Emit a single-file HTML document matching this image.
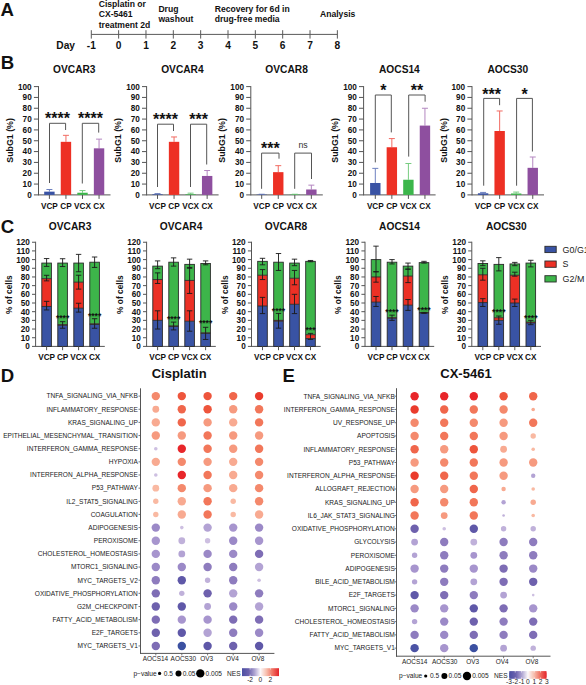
<!DOCTYPE html>
<html><head><meta charset="utf-8"><style>
html,body{margin:0;padding:0;background:#fff;}
svg{display:block;}
text{font-family:"Liberation Sans", sans-serif;}
</style></head><body>
<svg width="586" height="685" viewBox="0 0 586 685">
<rect width="586" height="685" fill="#fff"/>
<text x="0.60" y="16.30" font-size="18.6" font-weight="bold" text-anchor="start" fill="#111" >A</text>
<line x1="91.30" y1="34.40" x2="337.36" y2="34.40" stroke="#5a5a5a" stroke-width="1.0" />
<line x1="91.30" y1="30.20" x2="91.30" y2="38.60" stroke="#5a5a5a" stroke-width="1.0" />
<text x="91.30" y="49.40" font-size="10.2" font-weight="bold" text-anchor="middle" fill="#111" >-1</text>
<line x1="118.64" y1="30.20" x2="118.64" y2="38.60" stroke="#5a5a5a" stroke-width="1.0" />
<text x="118.64" y="49.40" font-size="10.2" font-weight="bold" text-anchor="middle" fill="#111" >0</text>
<line x1="145.98" y1="30.20" x2="145.98" y2="38.60" stroke="#5a5a5a" stroke-width="1.0" />
<text x="145.98" y="49.40" font-size="10.2" font-weight="bold" text-anchor="middle" fill="#111" >1</text>
<line x1="173.32" y1="30.20" x2="173.32" y2="38.60" stroke="#5a5a5a" stroke-width="1.0" />
<text x="173.32" y="49.40" font-size="10.2" font-weight="bold" text-anchor="middle" fill="#111" >2</text>
<line x1="200.66" y1="30.20" x2="200.66" y2="38.60" stroke="#5a5a5a" stroke-width="1.0" />
<text x="200.66" y="49.40" font-size="10.2" font-weight="bold" text-anchor="middle" fill="#111" >3</text>
<line x1="228.00" y1="30.20" x2="228.00" y2="38.60" stroke="#5a5a5a" stroke-width="1.0" />
<text x="228.00" y="49.40" font-size="10.2" font-weight="bold" text-anchor="middle" fill="#111" >4</text>
<line x1="255.34" y1="30.20" x2="255.34" y2="38.60" stroke="#5a5a5a" stroke-width="1.0" />
<text x="255.34" y="49.40" font-size="10.2" font-weight="bold" text-anchor="middle" fill="#111" >5</text>
<line x1="282.68" y1="30.20" x2="282.68" y2="38.60" stroke="#5a5a5a" stroke-width="1.0" />
<text x="282.68" y="49.40" font-size="10.2" font-weight="bold" text-anchor="middle" fill="#111" >6</text>
<line x1="310.02" y1="30.20" x2="310.02" y2="38.60" stroke="#5a5a5a" stroke-width="1.0" />
<text x="310.02" y="49.40" font-size="10.2" font-weight="bold" text-anchor="middle" fill="#111" >7</text>
<line x1="337.36" y1="30.20" x2="337.36" y2="38.60" stroke="#5a5a5a" stroke-width="1.0" />
<text x="337.36" y="49.40" font-size="10.2" font-weight="bold" text-anchor="middle" fill="#111" >8</text>
<text x="56.30" y="49.40" font-size="10.2" font-weight="bold" text-anchor="start" fill="#111" >Day</text>
<text x="98.70" y="7.00" font-size="8.6" font-weight="bold" text-anchor="start" fill="#111" >Cisplatin or</text>
<text x="98.70" y="17.40" font-size="8.6" font-weight="bold" text-anchor="start" fill="#111" >CX-5461</text>
<text x="98.70" y="27.80" font-size="8.6" font-weight="bold" text-anchor="start" fill="#111" >treatment 2d</text>
<text x="158.40" y="12.10" font-size="8.6" font-weight="bold" text-anchor="start" fill="#111" >Drug</text>
<text x="158.40" y="22.40" font-size="8.6" font-weight="bold" text-anchor="start" fill="#111" >washout</text>
<text x="214.70" y="12.10" font-size="8.6" font-weight="bold" text-anchor="start" fill="#111" >Recovery for 6d in</text>
<text x="214.70" y="22.40" font-size="8.6" font-weight="bold" text-anchor="start" fill="#111" >drug-free media</text>
<text x="320.00" y="17.20" font-size="8.6" font-weight="bold" text-anchor="start" fill="#111" >Analysis</text>
<text x="0.80" y="69.20" font-size="18.6" font-weight="bold" text-anchor="start" fill="#111" >B</text>
<text x="74.30" y="73.10" font-size="10.2" font-weight="bold" text-anchor="middle" fill="#111" >OVCAR3</text>
<line x1="38.50" y1="86.10" x2="38.50" y2="195.40" stroke="#555" stroke-width="1" />
<line x1="33.90" y1="194.90" x2="38.50" y2="194.90" stroke="#555" stroke-width="1" />
<text x="31.70" y="197.80" font-size="8.2" font-weight="bold" text-anchor="end" fill="#111" >0</text>
<line x1="33.90" y1="184.07" x2="38.50" y2="184.07" stroke="#555" stroke-width="1" />
<text x="31.70" y="186.97" font-size="8.2" font-weight="bold" text-anchor="end" fill="#111" >10</text>
<line x1="33.90" y1="173.24" x2="38.50" y2="173.24" stroke="#555" stroke-width="1" />
<text x="31.70" y="176.14" font-size="8.2" font-weight="bold" text-anchor="end" fill="#111" >20</text>
<line x1="33.90" y1="162.41" x2="38.50" y2="162.41" stroke="#555" stroke-width="1" />
<text x="31.70" y="165.31" font-size="8.2" font-weight="bold" text-anchor="end" fill="#111" >30</text>
<line x1="33.90" y1="151.58" x2="38.50" y2="151.58" stroke="#555" stroke-width="1" />
<text x="31.70" y="154.48" font-size="8.2" font-weight="bold" text-anchor="end" fill="#111" >40</text>
<line x1="33.90" y1="140.75" x2="38.50" y2="140.75" stroke="#555" stroke-width="1" />
<text x="31.70" y="143.65" font-size="8.2" font-weight="bold" text-anchor="end" fill="#111" >50</text>
<line x1="33.90" y1="129.92" x2="38.50" y2="129.92" stroke="#555" stroke-width="1" />
<text x="31.70" y="132.82" font-size="8.2" font-weight="bold" text-anchor="end" fill="#111" >60</text>
<line x1="33.90" y1="119.09" x2="38.50" y2="119.09" stroke="#555" stroke-width="1" />
<text x="31.70" y="121.99" font-size="8.2" font-weight="bold" text-anchor="end" fill="#111" >70</text>
<line x1="33.90" y1="108.26" x2="38.50" y2="108.26" stroke="#555" stroke-width="1" />
<text x="31.70" y="111.16" font-size="8.2" font-weight="bold" text-anchor="end" fill="#111" >80</text>
<line x1="33.90" y1="97.43" x2="38.50" y2="97.43" stroke="#555" stroke-width="1" />
<text x="31.70" y="100.33" font-size="8.2" font-weight="bold" text-anchor="end" fill="#111" >90</text>
<line x1="33.90" y1="86.60" x2="38.50" y2="86.60" stroke="#555" stroke-width="1" />
<text x="31.70" y="89.50" font-size="8.2" font-weight="bold" text-anchor="end" fill="#111" >100</text>
<line x1="38.50" y1="194.90" x2="110.50" y2="194.90" stroke="#555" stroke-width="1" />
<text x="0.00" y="0.00" font-size="8.8" font-weight="bold" text-anchor="middle" fill="#111" transform="translate(13.00,140.40) rotate(-90)">SubG1 (%)</text>
<line x1="49.40" y1="191.65" x2="49.40" y2="189.49" stroke="#6d80c0" stroke-width="1" />
<line x1="46.40" y1="189.49" x2="52.40" y2="189.49" stroke="#6d80c0" stroke-width="1" />
<rect x="44.20" y="191.65" width="10.40" height="3.25" fill="#3953a4" stroke="none" stroke-width="0"/>
<line x1="49.40" y1="194.90" x2="49.40" y2="198.90" stroke="#555" stroke-width="1" />
<text x="49.40" y="208.80" font-size="8.2" font-weight="bold" text-anchor="middle" fill="#111" >VCP</text>
<line x1="65.95" y1="141.83" x2="65.95" y2="135.34" stroke="#f26b62" stroke-width="1" />
<line x1="62.95" y1="135.34" x2="68.95" y2="135.34" stroke="#f26b62" stroke-width="1" />
<rect x="60.75" y="141.83" width="10.40" height="53.07" fill="#ed3024" stroke="none" stroke-width="0"/>
<line x1="65.95" y1="194.90" x2="65.95" y2="198.90" stroke="#555" stroke-width="1" />
<text x="65.95" y="208.80" font-size="8.2" font-weight="bold" text-anchor="middle" fill="#111" >CP</text>
<line x1="82.50" y1="192.73" x2="82.50" y2="190.57" stroke="#77cc80" stroke-width="1" />
<line x1="79.50" y1="190.57" x2="85.50" y2="190.57" stroke="#77cc80" stroke-width="1" />
<rect x="77.30" y="192.73" width="10.40" height="2.17" fill="#3cb64b" stroke="none" stroke-width="0"/>
<line x1="82.50" y1="194.90" x2="82.50" y2="198.90" stroke="#555" stroke-width="1" />
<text x="82.50" y="208.80" font-size="8.2" font-weight="bold" text-anchor="middle" fill="#111" >VCX</text>
<line x1="99.05" y1="148.33" x2="99.05" y2="139.13" stroke="#b386c0" stroke-width="1" />
<line x1="96.05" y1="139.13" x2="102.05" y2="139.13" stroke="#b386c0" stroke-width="1" />
<rect x="93.85" y="148.33" width="10.40" height="46.57" fill="#8e4f9f" stroke="none" stroke-width="0"/>
<line x1="99.05" y1="194.90" x2="99.05" y2="198.90" stroke="#555" stroke-width="1" />
<text x="99.05" y="208.80" font-size="8.2" font-weight="bold" text-anchor="middle" fill="#111" >CX</text>
<polyline points="49.5,183.0 49.5,123.3 65.6,123.3 65.6,130.0" fill="none" stroke="#555" stroke-width="1"/>
<text x="57.55" y="124.00" font-size="16" font-weight="bold" text-anchor="middle" fill="#111" >****</text>
<polyline points="82.3,183.5 82.3,123.3 98.7,123.3 98.7,132.6" fill="none" stroke="#555" stroke-width="1"/>
<text x="90.50" y="124.00" font-size="16" font-weight="bold" text-anchor="middle" fill="#111" >****</text>
<text x="182.40" y="73.10" font-size="10.2" font-weight="bold" text-anchor="middle" fill="#111" >OVCAR4</text>
<line x1="146.60" y1="86.10" x2="146.60" y2="195.40" stroke="#555" stroke-width="1" />
<line x1="142.00" y1="194.90" x2="146.60" y2="194.90" stroke="#555" stroke-width="1" />
<text x="139.80" y="197.80" font-size="8.2" font-weight="bold" text-anchor="end" fill="#111" >0</text>
<line x1="142.00" y1="184.07" x2="146.60" y2="184.07" stroke="#555" stroke-width="1" />
<text x="139.80" y="186.97" font-size="8.2" font-weight="bold" text-anchor="end" fill="#111" >10</text>
<line x1="142.00" y1="173.24" x2="146.60" y2="173.24" stroke="#555" stroke-width="1" />
<text x="139.80" y="176.14" font-size="8.2" font-weight="bold" text-anchor="end" fill="#111" >20</text>
<line x1="142.00" y1="162.41" x2="146.60" y2="162.41" stroke="#555" stroke-width="1" />
<text x="139.80" y="165.31" font-size="8.2" font-weight="bold" text-anchor="end" fill="#111" >30</text>
<line x1="142.00" y1="151.58" x2="146.60" y2="151.58" stroke="#555" stroke-width="1" />
<text x="139.80" y="154.48" font-size="8.2" font-weight="bold" text-anchor="end" fill="#111" >40</text>
<line x1="142.00" y1="140.75" x2="146.60" y2="140.75" stroke="#555" stroke-width="1" />
<text x="139.80" y="143.65" font-size="8.2" font-weight="bold" text-anchor="end" fill="#111" >50</text>
<line x1="142.00" y1="129.92" x2="146.60" y2="129.92" stroke="#555" stroke-width="1" />
<text x="139.80" y="132.82" font-size="8.2" font-weight="bold" text-anchor="end" fill="#111" >60</text>
<line x1="142.00" y1="119.09" x2="146.60" y2="119.09" stroke="#555" stroke-width="1" />
<text x="139.80" y="121.99" font-size="8.2" font-weight="bold" text-anchor="end" fill="#111" >70</text>
<line x1="142.00" y1="108.26" x2="146.60" y2="108.26" stroke="#555" stroke-width="1" />
<text x="139.80" y="111.16" font-size="8.2" font-weight="bold" text-anchor="end" fill="#111" >80</text>
<line x1="142.00" y1="97.43" x2="146.60" y2="97.43" stroke="#555" stroke-width="1" />
<text x="139.80" y="100.33" font-size="8.2" font-weight="bold" text-anchor="end" fill="#111" >90</text>
<line x1="142.00" y1="86.60" x2="146.60" y2="86.60" stroke="#555" stroke-width="1" />
<text x="139.80" y="89.50" font-size="8.2" font-weight="bold" text-anchor="end" fill="#111" >100</text>
<line x1="146.60" y1="194.90" x2="218.60" y2="194.90" stroke="#555" stroke-width="1" />
<text x="0.00" y="0.00" font-size="8.8" font-weight="bold" text-anchor="middle" fill="#111" transform="translate(121.10,140.40) rotate(-90)">SubG1 (%)</text>
<line x1="157.50" y1="194.25" x2="157.50" y2="193.60" stroke="#6d80c0" stroke-width="1" />
<line x1="154.50" y1="193.60" x2="160.50" y2="193.60" stroke="#6d80c0" stroke-width="1" />
<rect x="152.30" y="194.25" width="10.40" height="0.65" fill="#3953a4" stroke="none" stroke-width="0"/>
<line x1="157.50" y1="194.90" x2="157.50" y2="198.90" stroke="#555" stroke-width="1" />
<text x="157.50" y="208.80" font-size="8.2" font-weight="bold" text-anchor="middle" fill="#111" >VCP</text>
<line x1="174.05" y1="141.83" x2="174.05" y2="136.96" stroke="#f26b62" stroke-width="1" />
<line x1="171.05" y1="136.96" x2="177.05" y2="136.96" stroke="#f26b62" stroke-width="1" />
<rect x="168.85" y="141.83" width="10.40" height="53.07" fill="#ed3024" stroke="none" stroke-width="0"/>
<line x1="174.05" y1="194.90" x2="174.05" y2="198.90" stroke="#555" stroke-width="1" />
<text x="174.05" y="208.80" font-size="8.2" font-weight="bold" text-anchor="middle" fill="#111" >CP</text>
<line x1="190.60" y1="194.25" x2="190.60" y2="193.17" stroke="#77cc80" stroke-width="1" />
<line x1="187.60" y1="193.17" x2="193.60" y2="193.17" stroke="#77cc80" stroke-width="1" />
<rect x="185.40" y="194.25" width="10.40" height="0.65" fill="#3cb64b" stroke="none" stroke-width="0"/>
<line x1="190.60" y1="194.90" x2="190.60" y2="198.90" stroke="#555" stroke-width="1" />
<text x="190.60" y="208.80" font-size="8.2" font-weight="bold" text-anchor="middle" fill="#111" >VCX</text>
<line x1="207.15" y1="175.95" x2="207.15" y2="170.53" stroke="#b386c0" stroke-width="1" />
<line x1="204.15" y1="170.53" x2="210.15" y2="170.53" stroke="#b386c0" stroke-width="1" />
<rect x="201.95" y="175.95" width="10.40" height="18.95" fill="#8e4f9f" stroke="none" stroke-width="0"/>
<line x1="207.15" y1="194.90" x2="207.15" y2="198.90" stroke="#555" stroke-width="1" />
<text x="207.15" y="208.80" font-size="8.2" font-weight="bold" text-anchor="middle" fill="#111" >CX</text>
<polyline points="157.5,187.0 157.5,124.2 173.5,124.2 173.5,131.0" fill="none" stroke="#555" stroke-width="1"/>
<text x="165.50" y="124.90" font-size="16" font-weight="bold" text-anchor="middle" fill="#111" >****</text>
<polyline points="190.5,187.0 190.5,124.2 206.7,124.2 206.7,164.5" fill="none" stroke="#555" stroke-width="1"/>
<text x="198.60" y="124.90" font-size="16" font-weight="bold" text-anchor="middle" fill="#111" >***</text>
<text x="286.60" y="73.10" font-size="10.2" font-weight="bold" text-anchor="middle" fill="#111" >OVCAR8</text>
<line x1="250.80" y1="86.10" x2="250.80" y2="195.40" stroke="#555" stroke-width="1" />
<line x1="246.20" y1="194.90" x2="250.80" y2="194.90" stroke="#555" stroke-width="1" />
<text x="244.00" y="197.80" font-size="8.2" font-weight="bold" text-anchor="end" fill="#111" >0</text>
<line x1="246.20" y1="184.07" x2="250.80" y2="184.07" stroke="#555" stroke-width="1" />
<text x="244.00" y="186.97" font-size="8.2" font-weight="bold" text-anchor="end" fill="#111" >10</text>
<line x1="246.20" y1="173.24" x2="250.80" y2="173.24" stroke="#555" stroke-width="1" />
<text x="244.00" y="176.14" font-size="8.2" font-weight="bold" text-anchor="end" fill="#111" >20</text>
<line x1="246.20" y1="162.41" x2="250.80" y2="162.41" stroke="#555" stroke-width="1" />
<text x="244.00" y="165.31" font-size="8.2" font-weight="bold" text-anchor="end" fill="#111" >30</text>
<line x1="246.20" y1="151.58" x2="250.80" y2="151.58" stroke="#555" stroke-width="1" />
<text x="244.00" y="154.48" font-size="8.2" font-weight="bold" text-anchor="end" fill="#111" >40</text>
<line x1="246.20" y1="140.75" x2="250.80" y2="140.75" stroke="#555" stroke-width="1" />
<text x="244.00" y="143.65" font-size="8.2" font-weight="bold" text-anchor="end" fill="#111" >50</text>
<line x1="246.20" y1="129.92" x2="250.80" y2="129.92" stroke="#555" stroke-width="1" />
<text x="244.00" y="132.82" font-size="8.2" font-weight="bold" text-anchor="end" fill="#111" >60</text>
<line x1="246.20" y1="119.09" x2="250.80" y2="119.09" stroke="#555" stroke-width="1" />
<text x="244.00" y="121.99" font-size="8.2" font-weight="bold" text-anchor="end" fill="#111" >70</text>
<line x1="246.20" y1="108.26" x2="250.80" y2="108.26" stroke="#555" stroke-width="1" />
<text x="244.00" y="111.16" font-size="8.2" font-weight="bold" text-anchor="end" fill="#111" >80</text>
<line x1="246.20" y1="97.43" x2="250.80" y2="97.43" stroke="#555" stroke-width="1" />
<text x="244.00" y="100.33" font-size="8.2" font-weight="bold" text-anchor="end" fill="#111" >90</text>
<line x1="246.20" y1="86.60" x2="250.80" y2="86.60" stroke="#555" stroke-width="1" />
<text x="244.00" y="89.50" font-size="8.2" font-weight="bold" text-anchor="end" fill="#111" >100</text>
<line x1="250.80" y1="194.90" x2="322.80" y2="194.90" stroke="#555" stroke-width="1" />
<text x="0.00" y="0.00" font-size="8.8" font-weight="bold" text-anchor="middle" fill="#111" transform="translate(225.30,140.40) rotate(-90)">SubG1 (%)</text>
<line x1="261.70" y1="194.58" x2="261.70" y2="194.25" stroke="#6d80c0" stroke-width="1" />
<line x1="258.70" y1="194.25" x2="264.70" y2="194.25" stroke="#6d80c0" stroke-width="1" />
<rect x="256.50" y="194.58" width="10.40" height="0.32" fill="#3953a4" stroke="none" stroke-width="0"/>
<line x1="261.70" y1="194.90" x2="261.70" y2="198.90" stroke="#555" stroke-width="1" />
<text x="261.70" y="208.80" font-size="8.2" font-weight="bold" text-anchor="middle" fill="#111" >VCP</text>
<line x1="278.25" y1="172.16" x2="278.25" y2="165.66" stroke="#f26b62" stroke-width="1" />
<line x1="275.25" y1="165.66" x2="281.25" y2="165.66" stroke="#f26b62" stroke-width="1" />
<rect x="273.05" y="172.16" width="10.40" height="22.74" fill="#ed3024" stroke="none" stroke-width="0"/>
<line x1="278.25" y1="194.90" x2="278.25" y2="198.90" stroke="#555" stroke-width="1" />
<text x="278.25" y="208.80" font-size="8.2" font-weight="bold" text-anchor="middle" fill="#111" >CP</text>
<line x1="294.80" y1="194.58" x2="294.80" y2="194.25" stroke="#77cc80" stroke-width="1" />
<line x1="291.80" y1="194.25" x2="297.80" y2="194.25" stroke="#77cc80" stroke-width="1" />
<rect x="289.60" y="194.58" width="10.40" height="0.32" fill="#3cb64b" stroke="none" stroke-width="0"/>
<line x1="294.80" y1="194.90" x2="294.80" y2="198.90" stroke="#555" stroke-width="1" />
<text x="294.80" y="208.80" font-size="8.2" font-weight="bold" text-anchor="middle" fill="#111" >VCX</text>
<line x1="311.35" y1="189.49" x2="311.35" y2="185.15" stroke="#b386c0" stroke-width="1" />
<line x1="308.35" y1="185.15" x2="314.35" y2="185.15" stroke="#b386c0" stroke-width="1" />
<rect x="306.15" y="189.49" width="10.40" height="5.42" fill="#8e4f9f" stroke="none" stroke-width="0"/>
<line x1="311.35" y1="194.90" x2="311.35" y2="198.90" stroke="#555" stroke-width="1" />
<text x="311.35" y="208.80" font-size="8.2" font-weight="bold" text-anchor="middle" fill="#111" >CX</text>
<polyline points="261.6,188.8 261.6,153.1 279.0,153.1 279.0,158.7" fill="none" stroke="#555" stroke-width="1"/>
<text x="270.30" y="154.10" font-size="16" font-weight="bold" text-anchor="middle" fill="#111" >***</text>
<polyline points="294.7,188.8 294.7,153.1 311.5,153.1 311.5,179.0" fill="none" stroke="#555" stroke-width="1"/>
<text x="303.10" y="147.70" font-size="8.8" font-weight="normal" text-anchor="middle" fill="#333" >ns</text>
<text x="399.40" y="73.10" font-size="10.2" font-weight="bold" text-anchor="middle" fill="#111" >AOCS14</text>
<line x1="363.60" y1="86.10" x2="363.60" y2="195.40" stroke="#555" stroke-width="1" />
<line x1="359.00" y1="194.90" x2="363.60" y2="194.90" stroke="#555" stroke-width="1" />
<text x="356.80" y="197.80" font-size="8.2" font-weight="bold" text-anchor="end" fill="#111" >0</text>
<line x1="359.00" y1="184.07" x2="363.60" y2="184.07" stroke="#555" stroke-width="1" />
<text x="356.80" y="186.97" font-size="8.2" font-weight="bold" text-anchor="end" fill="#111" >10</text>
<line x1="359.00" y1="173.24" x2="363.60" y2="173.24" stroke="#555" stroke-width="1" />
<text x="356.80" y="176.14" font-size="8.2" font-weight="bold" text-anchor="end" fill="#111" >20</text>
<line x1="359.00" y1="162.41" x2="363.60" y2="162.41" stroke="#555" stroke-width="1" />
<text x="356.80" y="165.31" font-size="8.2" font-weight="bold" text-anchor="end" fill="#111" >30</text>
<line x1="359.00" y1="151.58" x2="363.60" y2="151.58" stroke="#555" stroke-width="1" />
<text x="356.80" y="154.48" font-size="8.2" font-weight="bold" text-anchor="end" fill="#111" >40</text>
<line x1="359.00" y1="140.75" x2="363.60" y2="140.75" stroke="#555" stroke-width="1" />
<text x="356.80" y="143.65" font-size="8.2" font-weight="bold" text-anchor="end" fill="#111" >50</text>
<line x1="359.00" y1="129.92" x2="363.60" y2="129.92" stroke="#555" stroke-width="1" />
<text x="356.80" y="132.82" font-size="8.2" font-weight="bold" text-anchor="end" fill="#111" >60</text>
<line x1="359.00" y1="119.09" x2="363.60" y2="119.09" stroke="#555" stroke-width="1" />
<text x="356.80" y="121.99" font-size="8.2" font-weight="bold" text-anchor="end" fill="#111" >70</text>
<line x1="359.00" y1="108.26" x2="363.60" y2="108.26" stroke="#555" stroke-width="1" />
<text x="356.80" y="111.16" font-size="8.2" font-weight="bold" text-anchor="end" fill="#111" >80</text>
<line x1="359.00" y1="97.43" x2="363.60" y2="97.43" stroke="#555" stroke-width="1" />
<text x="356.80" y="100.33" font-size="8.2" font-weight="bold" text-anchor="end" fill="#111" >90</text>
<line x1="359.00" y1="86.60" x2="363.60" y2="86.60" stroke="#555" stroke-width="1" />
<text x="356.80" y="89.50" font-size="8.2" font-weight="bold" text-anchor="end" fill="#111" >100</text>
<line x1="363.60" y1="194.90" x2="435.60" y2="194.90" stroke="#555" stroke-width="1" />
<text x="0.00" y="0.00" font-size="8.8" font-weight="bold" text-anchor="middle" fill="#111" transform="translate(338.10,140.40) rotate(-90)">SubG1 (%)</text>
<line x1="375.30" y1="182.99" x2="375.30" y2="168.37" stroke="#6d80c0" stroke-width="1" />
<line x1="372.30" y1="168.37" x2="378.30" y2="168.37" stroke="#6d80c0" stroke-width="1" />
<rect x="370.10" y="182.99" width="10.40" height="11.91" fill="#3953a4" stroke="none" stroke-width="0"/>
<line x1="375.30" y1="194.90" x2="375.30" y2="198.90" stroke="#555" stroke-width="1" />
<text x="375.30" y="208.80" font-size="8.2" font-weight="bold" text-anchor="middle" fill="#111" >VCP</text>
<line x1="391.85" y1="147.25" x2="391.85" y2="138.58" stroke="#f26b62" stroke-width="1" />
<line x1="388.85" y1="138.58" x2="394.85" y2="138.58" stroke="#f26b62" stroke-width="1" />
<rect x="386.65" y="147.25" width="10.40" height="47.65" fill="#ed3024" stroke="none" stroke-width="0"/>
<line x1="391.85" y1="194.90" x2="391.85" y2="198.90" stroke="#555" stroke-width="1" />
<text x="391.85" y="208.80" font-size="8.2" font-weight="bold" text-anchor="middle" fill="#111" >CP</text>
<line x1="408.40" y1="179.74" x2="408.40" y2="163.49" stroke="#77cc80" stroke-width="1" />
<line x1="405.40" y1="163.49" x2="411.40" y2="163.49" stroke="#77cc80" stroke-width="1" />
<rect x="403.20" y="179.74" width="10.40" height="15.16" fill="#3cb64b" stroke="none" stroke-width="0"/>
<line x1="408.40" y1="194.90" x2="408.40" y2="198.90" stroke="#555" stroke-width="1" />
<text x="408.40" y="208.80" font-size="8.2" font-weight="bold" text-anchor="middle" fill="#111" >VCX</text>
<line x1="424.95" y1="125.59" x2="424.95" y2="108.26" stroke="#b386c0" stroke-width="1" />
<line x1="421.95" y1="108.26" x2="427.95" y2="108.26" stroke="#b386c0" stroke-width="1" />
<rect x="419.75" y="125.59" width="10.40" height="69.31" fill="#8e4f9f" stroke="none" stroke-width="0"/>
<line x1="424.95" y1="194.90" x2="424.95" y2="198.90" stroke="#555" stroke-width="1" />
<text x="424.95" y="208.80" font-size="8.2" font-weight="bold" text-anchor="middle" fill="#111" >CX</text>
<polyline points="375.3,162.4 375.3,95.0 391.3,95.0 391.3,132.4" fill="none" stroke="#555" stroke-width="1"/>
<text x="383.30" y="95.90" font-size="16" font-weight="bold" text-anchor="middle" fill="#111" >*</text>
<polyline points="408.7,156.6 408.7,95.0 425.1,95.0 425.1,101.7" fill="none" stroke="#555" stroke-width="1"/>
<text x="416.90" y="95.90" font-size="16" font-weight="bold" text-anchor="middle" fill="#111" >**</text>
<text x="507.80" y="73.10" font-size="10.2" font-weight="bold" text-anchor="middle" fill="#111" >AOCS30</text>
<line x1="472.00" y1="86.10" x2="472.00" y2="195.40" stroke="#555" stroke-width="1" />
<line x1="467.40" y1="194.90" x2="472.00" y2="194.90" stroke="#555" stroke-width="1" />
<text x="465.20" y="197.80" font-size="8.2" font-weight="bold" text-anchor="end" fill="#111" >0</text>
<line x1="467.40" y1="184.07" x2="472.00" y2="184.07" stroke="#555" stroke-width="1" />
<text x="465.20" y="186.97" font-size="8.2" font-weight="bold" text-anchor="end" fill="#111" >10</text>
<line x1="467.40" y1="173.24" x2="472.00" y2="173.24" stroke="#555" stroke-width="1" />
<text x="465.20" y="176.14" font-size="8.2" font-weight="bold" text-anchor="end" fill="#111" >20</text>
<line x1="467.40" y1="162.41" x2="472.00" y2="162.41" stroke="#555" stroke-width="1" />
<text x="465.20" y="165.31" font-size="8.2" font-weight="bold" text-anchor="end" fill="#111" >30</text>
<line x1="467.40" y1="151.58" x2="472.00" y2="151.58" stroke="#555" stroke-width="1" />
<text x="465.20" y="154.48" font-size="8.2" font-weight="bold" text-anchor="end" fill="#111" >40</text>
<line x1="467.40" y1="140.75" x2="472.00" y2="140.75" stroke="#555" stroke-width="1" />
<text x="465.20" y="143.65" font-size="8.2" font-weight="bold" text-anchor="end" fill="#111" >50</text>
<line x1="467.40" y1="129.92" x2="472.00" y2="129.92" stroke="#555" stroke-width="1" />
<text x="465.20" y="132.82" font-size="8.2" font-weight="bold" text-anchor="end" fill="#111" >60</text>
<line x1="467.40" y1="119.09" x2="472.00" y2="119.09" stroke="#555" stroke-width="1" />
<text x="465.20" y="121.99" font-size="8.2" font-weight="bold" text-anchor="end" fill="#111" >70</text>
<line x1="467.40" y1="108.26" x2="472.00" y2="108.26" stroke="#555" stroke-width="1" />
<text x="465.20" y="111.16" font-size="8.2" font-weight="bold" text-anchor="end" fill="#111" >80</text>
<line x1="467.40" y1="97.43" x2="472.00" y2="97.43" stroke="#555" stroke-width="1" />
<text x="465.20" y="100.33" font-size="8.2" font-weight="bold" text-anchor="end" fill="#111" >90</text>
<line x1="467.40" y1="86.60" x2="472.00" y2="86.60" stroke="#555" stroke-width="1" />
<text x="465.20" y="89.50" font-size="8.2" font-weight="bold" text-anchor="end" fill="#111" >100</text>
<line x1="472.00" y1="194.90" x2="544.00" y2="194.90" stroke="#555" stroke-width="1" />
<text x="0.00" y="0.00" font-size="8.8" font-weight="bold" text-anchor="middle" fill="#111" transform="translate(446.50,140.40) rotate(-90)">SubG1 (%)</text>
<line x1="483.10" y1="193.28" x2="483.10" y2="192.41" stroke="#6d80c0" stroke-width="1" />
<line x1="480.10" y1="192.41" x2="486.10" y2="192.41" stroke="#6d80c0" stroke-width="1" />
<rect x="477.90" y="193.28" width="10.40" height="1.62" fill="#3953a4" stroke="none" stroke-width="0"/>
<line x1="483.10" y1="194.90" x2="483.10" y2="198.90" stroke="#555" stroke-width="1" />
<text x="483.10" y="208.80" font-size="8.2" font-weight="bold" text-anchor="middle" fill="#111" >VCP</text>
<line x1="499.65" y1="131.00" x2="499.65" y2="110.97" stroke="#f26b62" stroke-width="1" />
<line x1="496.65" y1="110.97" x2="502.65" y2="110.97" stroke="#f26b62" stroke-width="1" />
<rect x="494.45" y="131.00" width="10.40" height="63.90" fill="#ed3024" stroke="none" stroke-width="0"/>
<line x1="499.65" y1="194.90" x2="499.65" y2="198.90" stroke="#555" stroke-width="1" />
<text x="499.65" y="208.80" font-size="8.2" font-weight="bold" text-anchor="middle" fill="#111" >CP</text>
<line x1="516.20" y1="193.49" x2="516.20" y2="192.08" stroke="#77cc80" stroke-width="1" />
<line x1="513.20" y1="192.08" x2="519.20" y2="192.08" stroke="#77cc80" stroke-width="1" />
<rect x="511.00" y="193.49" width="10.40" height="1.41" fill="#3cb64b" stroke="none" stroke-width="0"/>
<line x1="516.20" y1="194.90" x2="516.20" y2="198.90" stroke="#555" stroke-width="1" />
<text x="516.20" y="208.80" font-size="8.2" font-weight="bold" text-anchor="middle" fill="#111" >VCX</text>
<line x1="532.75" y1="167.83" x2="532.75" y2="157.00" stroke="#b386c0" stroke-width="1" />
<line x1="529.75" y1="157.00" x2="535.75" y2="157.00" stroke="#b386c0" stroke-width="1" />
<rect x="527.55" y="167.83" width="10.40" height="27.07" fill="#8e4f9f" stroke="none" stroke-width="0"/>
<line x1="532.75" y1="194.90" x2="532.75" y2="198.90" stroke="#555" stroke-width="1" />
<text x="532.75" y="208.80" font-size="8.2" font-weight="bold" text-anchor="middle" fill="#111" >CX</text>
<polyline points="483.7,185.7 483.7,98.4 499.6,98.4 499.6,105.2" fill="none" stroke="#555" stroke-width="1"/>
<text x="491.65" y="99.60" font-size="16" font-weight="bold" text-anchor="middle" fill="#111" >***</text>
<polyline points="516.6,185.7 516.6,98.4 532.4,98.4 532.4,151.5" fill="none" stroke="#555" stroke-width="1"/>
<text x="524.50" y="99.60" font-size="16" font-weight="bold" text-anchor="middle" fill="#111" >*</text>
<text x="0.80" y="232.60" font-size="18.6" font-weight="bold" text-anchor="start" fill="#111" >C</text>
<text x="70.10" y="230.30" font-size="10.2" font-weight="bold" text-anchor="middle" fill="#111" >OVCAR3</text>
<line x1="35.60" y1="241.74" x2="35.60" y2="346.90" stroke="#555" stroke-width="1" />
<line x1="32.00" y1="346.40" x2="35.60" y2="346.40" stroke="#555" stroke-width="1" />
<text x="29.80" y="349.30" font-size="8.2" font-weight="bold" text-anchor="end" fill="#111" >0</text>
<line x1="32.00" y1="337.72" x2="35.60" y2="337.72" stroke="#555" stroke-width="1" />
<text x="29.80" y="340.62" font-size="8.2" font-weight="bold" text-anchor="end" fill="#111" >10</text>
<line x1="32.00" y1="329.04" x2="35.60" y2="329.04" stroke="#555" stroke-width="1" />
<text x="29.80" y="331.94" font-size="8.2" font-weight="bold" text-anchor="end" fill="#111" >20</text>
<line x1="32.00" y1="320.36" x2="35.60" y2="320.36" stroke="#555" stroke-width="1" />
<text x="29.80" y="323.26" font-size="8.2" font-weight="bold" text-anchor="end" fill="#111" >30</text>
<line x1="32.00" y1="311.68" x2="35.60" y2="311.68" stroke="#555" stroke-width="1" />
<text x="29.80" y="314.58" font-size="8.2" font-weight="bold" text-anchor="end" fill="#111" >40</text>
<line x1="32.00" y1="303.00" x2="35.60" y2="303.00" stroke="#555" stroke-width="1" />
<text x="29.80" y="305.90" font-size="8.2" font-weight="bold" text-anchor="end" fill="#111" >50</text>
<line x1="32.00" y1="294.32" x2="35.60" y2="294.32" stroke="#555" stroke-width="1" />
<text x="29.80" y="297.22" font-size="8.2" font-weight="bold" text-anchor="end" fill="#111" >60</text>
<line x1="32.00" y1="285.64" x2="35.60" y2="285.64" stroke="#555" stroke-width="1" />
<text x="29.80" y="288.54" font-size="8.2" font-weight="bold" text-anchor="end" fill="#111" >70</text>
<line x1="32.00" y1="276.96" x2="35.60" y2="276.96" stroke="#555" stroke-width="1" />
<text x="29.80" y="279.86" font-size="8.2" font-weight="bold" text-anchor="end" fill="#111" >80</text>
<line x1="32.00" y1="268.28" x2="35.60" y2="268.28" stroke="#555" stroke-width="1" />
<text x="29.80" y="271.18" font-size="8.2" font-weight="bold" text-anchor="end" fill="#111" >90</text>
<line x1="32.00" y1="259.60" x2="35.60" y2="259.60" stroke="#555" stroke-width="1" />
<text x="29.80" y="262.50" font-size="8.2" font-weight="bold" text-anchor="end" fill="#111" >100</text>
<line x1="32.00" y1="250.92" x2="35.60" y2="250.92" stroke="#555" stroke-width="1" />
<text x="29.80" y="253.82" font-size="8.2" font-weight="bold" text-anchor="end" fill="#111" >110</text>
<line x1="32.00" y1="242.24" x2="35.60" y2="242.24" stroke="#555" stroke-width="1" />
<text x="29.80" y="245.14" font-size="8.2" font-weight="bold" text-anchor="end" fill="#111" >120</text>
<line x1="35.60" y1="346.40" x2="104.80" y2="346.40" stroke="#555" stroke-width="1" />
<text x="0.00" y="0.00" font-size="8.4" font-weight="bold" text-anchor="middle" fill="#111" transform="translate(12.00,294.70) rotate(-90)">% of cells</text>
<rect x="41.80" y="263.07" width="9.60" height="15.62" fill="#3db54a" stroke="none" stroke-width="0"/>
<rect x="41.80" y="278.70" width="9.60" height="27.78" fill="#ec3025" stroke="none" stroke-width="0"/>
<rect x="41.80" y="306.47" width="9.60" height="39.93" fill="#3953a4" stroke="none" stroke-width="0"/>
<rect x="41.80" y="263.07" width="9.6" height="83.33" fill="none" stroke="#2a2a2a" stroke-width="0.9"/>
<line x1="41.80" y1="278.70" x2="51.40" y2="278.70" stroke="#2a2a2a" stroke-width="0.9" />
<line x1="41.80" y1="306.47" x2="51.40" y2="306.47" stroke="#2a2a2a" stroke-width="0.9" />
<line x1="46.60" y1="301.35" x2="46.60" y2="309.94" stroke="#1a1a1a" stroke-width="0.9" />
<line x1="43.90" y1="301.35" x2="49.30" y2="301.35" stroke="#1a1a1a" stroke-width="0.9" />
<line x1="43.90" y1="309.94" x2="49.30" y2="309.94" stroke="#1a1a1a" stroke-width="0.9" />
<line x1="46.60" y1="275.31" x2="46.60" y2="280.87" stroke="#1a1a1a" stroke-width="0.9" />
<line x1="43.90" y1="275.31" x2="49.30" y2="275.31" stroke="#1a1a1a" stroke-width="0.9" />
<line x1="43.90" y1="280.87" x2="49.30" y2="280.87" stroke="#1a1a1a" stroke-width="0.9" />
<line x1="46.60" y1="258.56" x2="46.60" y2="266.37" stroke="#1a1a1a" stroke-width="0.9" />
<line x1="43.90" y1="258.56" x2="49.30" y2="258.56" stroke="#1a1a1a" stroke-width="0.9" />
<line x1="43.90" y1="266.37" x2="49.30" y2="266.37" stroke="#1a1a1a" stroke-width="0.9" />
<line x1="46.60" y1="346.40" x2="46.60" y2="350.20" stroke="#555" stroke-width="1" />
<text x="46.60" y="359.60" font-size="8.2" font-weight="bold" text-anchor="middle" fill="#111" >VCP</text>
<rect x="57.80" y="263.07" width="9.60" height="61.63" fill="#3db54a" stroke="none" stroke-width="0"/>
<rect x="57.80" y="324.70" width="9.60" height="0.61" fill="#ec3025" stroke="none" stroke-width="0"/>
<rect x="57.80" y="325.31" width="9.60" height="21.09" fill="#3953a4" stroke="none" stroke-width="0"/>
<rect x="57.80" y="263.07" width="9.6" height="83.33" fill="none" stroke="#2a2a2a" stroke-width="0.9"/>
<line x1="57.80" y1="324.70" x2="67.40" y2="324.70" stroke="#2a2a2a" stroke-width="0.9" />
<line x1="57.80" y1="325.31" x2="67.40" y2="325.31" stroke="#2a2a2a" stroke-width="0.9" />
<line x1="62.60" y1="321.66" x2="62.60" y2="328.26" stroke="#1a1a1a" stroke-width="0.9" />
<line x1="59.90" y1="321.66" x2="65.30" y2="321.66" stroke="#1a1a1a" stroke-width="0.9" />
<line x1="59.90" y1="328.26" x2="65.30" y2="328.26" stroke="#1a1a1a" stroke-width="0.9" />
<line x1="62.60" y1="258.73" x2="62.60" y2="266.54" stroke="#1a1a1a" stroke-width="0.9" />
<line x1="59.90" y1="258.73" x2="65.30" y2="258.73" stroke="#1a1a1a" stroke-width="0.9" />
<line x1="59.90" y1="266.54" x2="65.30" y2="266.54" stroke="#1a1a1a" stroke-width="0.9" />
<text x="62.60" y="321.42" font-size="8.6" font-weight="bold" text-anchor="middle" fill="#111" >****</text>
<line x1="62.60" y1="346.40" x2="62.60" y2="350.20" stroke="#555" stroke-width="1" />
<text x="62.60" y="359.60" font-size="8.2" font-weight="bold" text-anchor="middle" fill="#111" >CP</text>
<rect x="73.80" y="263.07" width="9.60" height="19.10" fill="#3db54a" stroke="none" stroke-width="0"/>
<rect x="73.80" y="282.17" width="9.60" height="26.04" fill="#ec3025" stroke="none" stroke-width="0"/>
<rect x="73.80" y="308.21" width="9.60" height="38.19" fill="#3953a4" stroke="none" stroke-width="0"/>
<rect x="73.80" y="263.07" width="9.6" height="83.33" fill="none" stroke="#2a2a2a" stroke-width="0.9"/>
<line x1="73.80" y1="282.17" x2="83.40" y2="282.17" stroke="#2a2a2a" stroke-width="0.9" />
<line x1="73.80" y1="308.21" x2="83.40" y2="308.21" stroke="#2a2a2a" stroke-width="0.9" />
<line x1="78.60" y1="303.26" x2="78.60" y2="312.11" stroke="#1a1a1a" stroke-width="0.9" />
<line x1="75.90" y1="303.26" x2="81.30" y2="303.26" stroke="#1a1a1a" stroke-width="0.9" />
<line x1="75.90" y1="312.11" x2="81.30" y2="312.11" stroke="#1a1a1a" stroke-width="0.9" />
<line x1="78.60" y1="275.22" x2="78.60" y2="289.11" stroke="#1a1a1a" stroke-width="0.9" />
<line x1="75.90" y1="275.22" x2="81.30" y2="275.22" stroke="#1a1a1a" stroke-width="0.9" />
<line x1="75.90" y1="289.11" x2="81.30" y2="289.11" stroke="#1a1a1a" stroke-width="0.9" />
<line x1="78.60" y1="254.39" x2="78.60" y2="271.75" stroke="#1a1a1a" stroke-width="0.9" />
<line x1="75.90" y1="254.39" x2="81.30" y2="254.39" stroke="#1a1a1a" stroke-width="0.9" />
<line x1="75.90" y1="271.75" x2="81.30" y2="271.75" stroke="#1a1a1a" stroke-width="0.9" />
<line x1="78.60" y1="346.40" x2="78.60" y2="350.20" stroke="#555" stroke-width="1" />
<text x="78.60" y="359.60" font-size="8.2" font-weight="bold" text-anchor="middle" fill="#111" >VCX</text>
<rect x="89.80" y="262.20" width="9.60" height="61.63" fill="#3db54a" stroke="none" stroke-width="0"/>
<rect x="89.80" y="323.83" width="9.60" height="0.61" fill="#ec3025" stroke="none" stroke-width="0"/>
<rect x="89.80" y="324.44" width="9.60" height="21.96" fill="#3953a4" stroke="none" stroke-width="0"/>
<rect x="89.80" y="262.20" width="9.6" height="84.20" fill="none" stroke="#2a2a2a" stroke-width="0.9"/>
<line x1="89.80" y1="323.83" x2="99.40" y2="323.83" stroke="#2a2a2a" stroke-width="0.9" />
<line x1="89.80" y1="324.44" x2="99.40" y2="324.44" stroke="#2a2a2a" stroke-width="0.9" />
<line x1="94.60" y1="318.71" x2="94.60" y2="328.26" stroke="#1a1a1a" stroke-width="0.9" />
<line x1="91.90" y1="318.71" x2="97.30" y2="318.71" stroke="#1a1a1a" stroke-width="0.9" />
<line x1="91.90" y1="328.26" x2="97.30" y2="328.26" stroke="#1a1a1a" stroke-width="0.9" />
<line x1="94.60" y1="257.00" x2="94.60" y2="267.41" stroke="#1a1a1a" stroke-width="0.9" />
<line x1="91.90" y1="257.00" x2="97.30" y2="257.00" stroke="#1a1a1a" stroke-width="0.9" />
<line x1="91.90" y1="267.41" x2="97.30" y2="267.41" stroke="#1a1a1a" stroke-width="0.9" />
<text x="94.60" y="319.43" font-size="8.6" font-weight="bold" text-anchor="middle" fill="#111" >****</text>
<line x1="94.60" y1="346.40" x2="94.60" y2="350.20" stroke="#555" stroke-width="1" />
<text x="94.60" y="359.60" font-size="8.2" font-weight="bold" text-anchor="middle" fill="#111" >CX</text>
<text x="181.10" y="230.30" font-size="10.2" font-weight="bold" text-anchor="middle" fill="#111" >OVCAR4</text>
<line x1="146.60" y1="241.74" x2="146.60" y2="346.90" stroke="#555" stroke-width="1" />
<line x1="143.00" y1="346.40" x2="146.60" y2="346.40" stroke="#555" stroke-width="1" />
<text x="140.80" y="349.30" font-size="8.2" font-weight="bold" text-anchor="end" fill="#111" >0</text>
<line x1="143.00" y1="337.72" x2="146.60" y2="337.72" stroke="#555" stroke-width="1" />
<text x="140.80" y="340.62" font-size="8.2" font-weight="bold" text-anchor="end" fill="#111" >10</text>
<line x1="143.00" y1="329.04" x2="146.60" y2="329.04" stroke="#555" stroke-width="1" />
<text x="140.80" y="331.94" font-size="8.2" font-weight="bold" text-anchor="end" fill="#111" >20</text>
<line x1="143.00" y1="320.36" x2="146.60" y2="320.36" stroke="#555" stroke-width="1" />
<text x="140.80" y="323.26" font-size="8.2" font-weight="bold" text-anchor="end" fill="#111" >30</text>
<line x1="143.00" y1="311.68" x2="146.60" y2="311.68" stroke="#555" stroke-width="1" />
<text x="140.80" y="314.58" font-size="8.2" font-weight="bold" text-anchor="end" fill="#111" >40</text>
<line x1="143.00" y1="303.00" x2="146.60" y2="303.00" stroke="#555" stroke-width="1" />
<text x="140.80" y="305.90" font-size="8.2" font-weight="bold" text-anchor="end" fill="#111" >50</text>
<line x1="143.00" y1="294.32" x2="146.60" y2="294.32" stroke="#555" stroke-width="1" />
<text x="140.80" y="297.22" font-size="8.2" font-weight="bold" text-anchor="end" fill="#111" >60</text>
<line x1="143.00" y1="285.64" x2="146.60" y2="285.64" stroke="#555" stroke-width="1" />
<text x="140.80" y="288.54" font-size="8.2" font-weight="bold" text-anchor="end" fill="#111" >70</text>
<line x1="143.00" y1="276.96" x2="146.60" y2="276.96" stroke="#555" stroke-width="1" />
<text x="140.80" y="279.86" font-size="8.2" font-weight="bold" text-anchor="end" fill="#111" >80</text>
<line x1="143.00" y1="268.28" x2="146.60" y2="268.28" stroke="#555" stroke-width="1" />
<text x="140.80" y="271.18" font-size="8.2" font-weight="bold" text-anchor="end" fill="#111" >90</text>
<line x1="143.00" y1="259.60" x2="146.60" y2="259.60" stroke="#555" stroke-width="1" />
<text x="140.80" y="262.50" font-size="8.2" font-weight="bold" text-anchor="end" fill="#111" >100</text>
<line x1="143.00" y1="250.92" x2="146.60" y2="250.92" stroke="#555" stroke-width="1" />
<text x="140.80" y="253.82" font-size="8.2" font-weight="bold" text-anchor="end" fill="#111" >110</text>
<line x1="143.00" y1="242.24" x2="146.60" y2="242.24" stroke="#555" stroke-width="1" />
<text x="140.80" y="245.14" font-size="8.2" font-weight="bold" text-anchor="end" fill="#111" >120</text>
<line x1="146.60" y1="346.40" x2="215.80" y2="346.40" stroke="#555" stroke-width="1" />
<text x="0.00" y="0.00" font-size="8.4" font-weight="bold" text-anchor="middle" fill="#111" transform="translate(123.00,294.70) rotate(-90)">% of cells</text>
<rect x="152.80" y="266.11" width="9.60" height="13.45" fill="#3db54a" stroke="none" stroke-width="0"/>
<rect x="152.80" y="279.56" width="9.60" height="40.80" fill="#ec3025" stroke="none" stroke-width="0"/>
<rect x="152.80" y="320.36" width="9.60" height="26.04" fill="#3953a4" stroke="none" stroke-width="0"/>
<rect x="152.80" y="266.11" width="9.6" height="80.29" fill="none" stroke="#2a2a2a" stroke-width="0.9"/>
<line x1="152.80" y1="279.56" x2="162.40" y2="279.56" stroke="#2a2a2a" stroke-width="0.9" />
<line x1="152.80" y1="320.36" x2="162.40" y2="320.36" stroke="#2a2a2a" stroke-width="0.9" />
<line x1="157.60" y1="310.81" x2="157.60" y2="329.04" stroke="#1a1a1a" stroke-width="0.9" />
<line x1="154.90" y1="310.81" x2="160.30" y2="310.81" stroke="#1a1a1a" stroke-width="0.9" />
<line x1="154.90" y1="329.04" x2="160.30" y2="329.04" stroke="#1a1a1a" stroke-width="0.9" />
<line x1="157.60" y1="272.88" x2="157.60" y2="283.47" stroke="#1a1a1a" stroke-width="0.9" />
<line x1="154.90" y1="272.88" x2="160.30" y2="272.88" stroke="#1a1a1a" stroke-width="0.9" />
<line x1="154.90" y1="283.47" x2="160.30" y2="283.47" stroke="#1a1a1a" stroke-width="0.9" />
<line x1="157.60" y1="260.90" x2="157.60" y2="268.71" stroke="#1a1a1a" stroke-width="0.9" />
<line x1="154.90" y1="260.90" x2="160.30" y2="260.90" stroke="#1a1a1a" stroke-width="0.9" />
<line x1="154.90" y1="268.71" x2="160.30" y2="268.71" stroke="#1a1a1a" stroke-width="0.9" />
<line x1="157.60" y1="346.40" x2="157.60" y2="350.20" stroke="#555" stroke-width="1" />
<text x="157.60" y="359.60" font-size="8.2" font-weight="bold" text-anchor="middle" fill="#111" >VCP</text>
<rect x="168.80" y="262.20" width="9.60" height="63.71" fill="#3db54a" stroke="none" stroke-width="0"/>
<rect x="168.80" y="325.92" width="9.60" height="0.52" fill="#ec3025" stroke="none" stroke-width="0"/>
<rect x="168.80" y="326.44" width="9.60" height="19.96" fill="#3953a4" stroke="none" stroke-width="0"/>
<rect x="168.80" y="262.20" width="9.6" height="84.20" fill="none" stroke="#2a2a2a" stroke-width="0.9"/>
<line x1="168.80" y1="325.92" x2="178.40" y2="325.92" stroke="#2a2a2a" stroke-width="0.9" />
<line x1="168.80" y1="326.44" x2="178.40" y2="326.44" stroke="#2a2a2a" stroke-width="0.9" />
<line x1="173.60" y1="322.10" x2="173.60" y2="329.91" stroke="#1a1a1a" stroke-width="0.9" />
<line x1="170.90" y1="322.10" x2="176.30" y2="322.10" stroke="#1a1a1a" stroke-width="0.9" />
<line x1="170.90" y1="329.91" x2="176.30" y2="329.91" stroke="#1a1a1a" stroke-width="0.9" />
<line x1="173.60" y1="257.86" x2="173.60" y2="266.11" stroke="#1a1a1a" stroke-width="0.9" />
<line x1="170.90" y1="257.86" x2="176.30" y2="257.86" stroke="#1a1a1a" stroke-width="0.9" />
<line x1="170.90" y1="266.11" x2="176.30" y2="266.11" stroke="#1a1a1a" stroke-width="0.9" />
<text x="173.60" y="321.86" font-size="8.6" font-weight="bold" text-anchor="middle" fill="#111" >****</text>
<line x1="173.60" y1="346.40" x2="173.60" y2="350.20" stroke="#555" stroke-width="1" />
<text x="173.60" y="359.60" font-size="8.2" font-weight="bold" text-anchor="middle" fill="#111" >CP</text>
<rect x="184.80" y="264.37" width="9.60" height="16.06" fill="#3db54a" stroke="none" stroke-width="0"/>
<rect x="184.80" y="280.43" width="9.60" height="40.80" fill="#ec3025" stroke="none" stroke-width="0"/>
<rect x="184.80" y="321.23" width="9.60" height="25.17" fill="#3953a4" stroke="none" stroke-width="0"/>
<rect x="184.80" y="264.37" width="9.6" height="82.03" fill="none" stroke="#2a2a2a" stroke-width="0.9"/>
<line x1="184.80" y1="280.43" x2="194.40" y2="280.43" stroke="#2a2a2a" stroke-width="0.9" />
<line x1="184.80" y1="321.23" x2="194.40" y2="321.23" stroke="#2a2a2a" stroke-width="0.9" />
<line x1="189.60" y1="310.81" x2="189.60" y2="331.21" stroke="#1a1a1a" stroke-width="0.9" />
<line x1="186.90" y1="310.81" x2="192.30" y2="310.81" stroke="#1a1a1a" stroke-width="0.9" />
<line x1="186.90" y1="331.21" x2="192.30" y2="331.21" stroke="#1a1a1a" stroke-width="0.9" />
<line x1="189.60" y1="267.41" x2="189.60" y2="293.45" stroke="#1a1a1a" stroke-width="0.9" />
<line x1="186.90" y1="267.41" x2="192.30" y2="267.41" stroke="#1a1a1a" stroke-width="0.9" />
<line x1="186.90" y1="293.45" x2="192.30" y2="293.45" stroke="#1a1a1a" stroke-width="0.9" />
<line x1="189.60" y1="259.17" x2="189.60" y2="268.28" stroke="#1a1a1a" stroke-width="0.9" />
<line x1="186.90" y1="259.17" x2="192.30" y2="259.17" stroke="#1a1a1a" stroke-width="0.9" />
<line x1="186.90" y1="268.28" x2="192.30" y2="268.28" stroke="#1a1a1a" stroke-width="0.9" />
<line x1="189.60" y1="346.40" x2="189.60" y2="350.20" stroke="#555" stroke-width="1" />
<text x="189.60" y="359.60" font-size="8.2" font-weight="bold" text-anchor="middle" fill="#111" >VCX</text>
<rect x="200.80" y="263.51" width="9.60" height="69.35" fill="#3db54a" stroke="none" stroke-width="0"/>
<rect x="200.80" y="332.86" width="9.60" height="0.52" fill="#ec3025" stroke="none" stroke-width="0"/>
<rect x="200.80" y="333.38" width="9.60" height="13.02" fill="#3953a4" stroke="none" stroke-width="0"/>
<rect x="200.80" y="263.51" width="9.6" height="82.89" fill="none" stroke="#2a2a2a" stroke-width="0.9"/>
<line x1="200.80" y1="332.86" x2="210.40" y2="332.86" stroke="#2a2a2a" stroke-width="0.9" />
<line x1="200.80" y1="333.38" x2="210.40" y2="333.38" stroke="#2a2a2a" stroke-width="0.9" />
<line x1="205.60" y1="327.30" x2="205.60" y2="339.46" stroke="#1a1a1a" stroke-width="0.9" />
<line x1="202.90" y1="327.30" x2="208.30" y2="327.30" stroke="#1a1a1a" stroke-width="0.9" />
<line x1="202.90" y1="339.46" x2="208.30" y2="339.46" stroke="#1a1a1a" stroke-width="0.9" />
<line x1="205.60" y1="260.90" x2="205.60" y2="264.81" stroke="#1a1a1a" stroke-width="0.9" />
<line x1="202.90" y1="260.90" x2="208.30" y2="260.90" stroke="#1a1a1a" stroke-width="0.9" />
<line x1="202.90" y1="264.81" x2="208.30" y2="264.81" stroke="#1a1a1a" stroke-width="0.9" />
<text x="205.60" y="326.20" font-size="8.6" font-weight="bold" text-anchor="middle" fill="#111" >****</text>
<line x1="205.60" y1="346.40" x2="205.60" y2="350.20" stroke="#555" stroke-width="1" />
<text x="205.60" y="359.60" font-size="8.2" font-weight="bold" text-anchor="middle" fill="#111" >CX</text>
<text x="286.00" y="230.30" font-size="10.2" font-weight="bold" text-anchor="middle" fill="#111" >OVCAR8</text>
<line x1="251.50" y1="241.74" x2="251.50" y2="346.90" stroke="#555" stroke-width="1" />
<line x1="247.90" y1="346.40" x2="251.50" y2="346.40" stroke="#555" stroke-width="1" />
<text x="245.70" y="349.30" font-size="8.2" font-weight="bold" text-anchor="end" fill="#111" >0</text>
<line x1="247.90" y1="337.72" x2="251.50" y2="337.72" stroke="#555" stroke-width="1" />
<text x="245.70" y="340.62" font-size="8.2" font-weight="bold" text-anchor="end" fill="#111" >10</text>
<line x1="247.90" y1="329.04" x2="251.50" y2="329.04" stroke="#555" stroke-width="1" />
<text x="245.70" y="331.94" font-size="8.2" font-weight="bold" text-anchor="end" fill="#111" >20</text>
<line x1="247.90" y1="320.36" x2="251.50" y2="320.36" stroke="#555" stroke-width="1" />
<text x="245.70" y="323.26" font-size="8.2" font-weight="bold" text-anchor="end" fill="#111" >30</text>
<line x1="247.90" y1="311.68" x2="251.50" y2="311.68" stroke="#555" stroke-width="1" />
<text x="245.70" y="314.58" font-size="8.2" font-weight="bold" text-anchor="end" fill="#111" >40</text>
<line x1="247.90" y1="303.00" x2="251.50" y2="303.00" stroke="#555" stroke-width="1" />
<text x="245.70" y="305.90" font-size="8.2" font-weight="bold" text-anchor="end" fill="#111" >50</text>
<line x1="247.90" y1="294.32" x2="251.50" y2="294.32" stroke="#555" stroke-width="1" />
<text x="245.70" y="297.22" font-size="8.2" font-weight="bold" text-anchor="end" fill="#111" >60</text>
<line x1="247.90" y1="285.64" x2="251.50" y2="285.64" stroke="#555" stroke-width="1" />
<text x="245.70" y="288.54" font-size="8.2" font-weight="bold" text-anchor="end" fill="#111" >70</text>
<line x1="247.90" y1="276.96" x2="251.50" y2="276.96" stroke="#555" stroke-width="1" />
<text x="245.70" y="279.86" font-size="8.2" font-weight="bold" text-anchor="end" fill="#111" >80</text>
<line x1="247.90" y1="268.28" x2="251.50" y2="268.28" stroke="#555" stroke-width="1" />
<text x="245.70" y="271.18" font-size="8.2" font-weight="bold" text-anchor="end" fill="#111" >90</text>
<line x1="247.90" y1="259.60" x2="251.50" y2="259.60" stroke="#555" stroke-width="1" />
<text x="245.70" y="262.50" font-size="8.2" font-weight="bold" text-anchor="end" fill="#111" >100</text>
<line x1="247.90" y1="250.92" x2="251.50" y2="250.92" stroke="#555" stroke-width="1" />
<text x="245.70" y="253.82" font-size="8.2" font-weight="bold" text-anchor="end" fill="#111" >110</text>
<line x1="247.90" y1="242.24" x2="251.50" y2="242.24" stroke="#555" stroke-width="1" />
<text x="245.70" y="245.14" font-size="8.2" font-weight="bold" text-anchor="end" fill="#111" >120</text>
<line x1="251.50" y1="346.40" x2="320.70" y2="346.40" stroke="#555" stroke-width="1" />
<text x="0.00" y="0.00" font-size="8.4" font-weight="bold" text-anchor="middle" fill="#111" transform="translate(227.90,294.70) rotate(-90)">% of cells</text>
<rect x="257.70" y="261.34" width="9.60" height="13.89" fill="#3db54a" stroke="none" stroke-width="0"/>
<rect x="257.70" y="275.22" width="9.60" height="30.81" fill="#ec3025" stroke="none" stroke-width="0"/>
<rect x="257.70" y="306.04" width="9.60" height="40.36" fill="#3953a4" stroke="none" stroke-width="0"/>
<rect x="257.70" y="261.34" width="9.6" height="85.06" fill="none" stroke="#2a2a2a" stroke-width="0.9"/>
<line x1="257.70" y1="275.22" x2="267.30" y2="275.22" stroke="#2a2a2a" stroke-width="0.9" />
<line x1="257.70" y1="306.04" x2="267.30" y2="306.04" stroke="#2a2a2a" stroke-width="0.9" />
<line x1="262.50" y1="297.36" x2="262.50" y2="313.59" stroke="#1a1a1a" stroke-width="0.9" />
<line x1="259.80" y1="297.36" x2="265.20" y2="297.36" stroke="#1a1a1a" stroke-width="0.9" />
<line x1="259.80" y1="313.59" x2="265.20" y2="313.59" stroke="#1a1a1a" stroke-width="0.9" />
<line x1="262.50" y1="269.58" x2="262.50" y2="279.56" stroke="#1a1a1a" stroke-width="0.9" />
<line x1="259.80" y1="269.58" x2="265.20" y2="269.58" stroke="#1a1a1a" stroke-width="0.9" />
<line x1="259.80" y1="279.56" x2="265.20" y2="279.56" stroke="#1a1a1a" stroke-width="0.9" />
<line x1="262.50" y1="258.30" x2="262.50" y2="264.81" stroke="#1a1a1a" stroke-width="0.9" />
<line x1="259.80" y1="258.30" x2="265.20" y2="258.30" stroke="#1a1a1a" stroke-width="0.9" />
<line x1="259.80" y1="264.81" x2="265.20" y2="264.81" stroke="#1a1a1a" stroke-width="0.9" />
<line x1="262.50" y1="346.40" x2="262.50" y2="350.20" stroke="#555" stroke-width="1" />
<text x="262.50" y="359.60" font-size="8.2" font-weight="bold" text-anchor="middle" fill="#111" >VCP</text>
<rect x="273.70" y="262.20" width="9.60" height="58.16" fill="#3db54a" stroke="none" stroke-width="0"/>
<rect x="273.70" y="320.36" width="9.60" height="0.87" fill="#ec3025" stroke="none" stroke-width="0"/>
<rect x="273.70" y="321.23" width="9.60" height="25.17" fill="#3953a4" stroke="none" stroke-width="0"/>
<rect x="273.70" y="262.20" width="9.6" height="84.20" fill="none" stroke="#2a2a2a" stroke-width="0.9"/>
<line x1="273.70" y1="320.36" x2="283.30" y2="320.36" stroke="#2a2a2a" stroke-width="0.9" />
<line x1="273.70" y1="321.23" x2="283.30" y2="321.23" stroke="#2a2a2a" stroke-width="0.9" />
<line x1="278.50" y1="313.42" x2="278.50" y2="328.17" stroke="#1a1a1a" stroke-width="0.9" />
<line x1="275.80" y1="313.42" x2="281.20" y2="313.42" stroke="#1a1a1a" stroke-width="0.9" />
<line x1="275.80" y1="328.17" x2="281.20" y2="328.17" stroke="#1a1a1a" stroke-width="0.9" />
<line x1="278.50" y1="253.52" x2="278.50" y2="270.45" stroke="#1a1a1a" stroke-width="0.9" />
<line x1="275.80" y1="253.52" x2="281.20" y2="253.52" stroke="#1a1a1a" stroke-width="0.9" />
<line x1="275.80" y1="270.45" x2="281.20" y2="270.45" stroke="#1a1a1a" stroke-width="0.9" />
<text x="278.50" y="314.04" font-size="8.6" font-weight="bold" text-anchor="middle" fill="#111" >****</text>
<line x1="278.50" y1="346.40" x2="278.50" y2="350.20" stroke="#555" stroke-width="1" />
<text x="278.50" y="359.60" font-size="8.2" font-weight="bold" text-anchor="middle" fill="#111" >CP</text>
<rect x="289.70" y="263.07" width="9.60" height="15.19" fill="#3db54a" stroke="none" stroke-width="0"/>
<rect x="289.70" y="278.26" width="9.60" height="26.04" fill="#ec3025" stroke="none" stroke-width="0"/>
<rect x="289.70" y="304.30" width="9.60" height="42.10" fill="#3953a4" stroke="none" stroke-width="0"/>
<rect x="289.70" y="263.07" width="9.6" height="83.33" fill="none" stroke="#2a2a2a" stroke-width="0.9"/>
<line x1="289.70" y1="278.26" x2="299.30" y2="278.26" stroke="#2a2a2a" stroke-width="0.9" />
<line x1="289.70" y1="304.30" x2="299.30" y2="304.30" stroke="#2a2a2a" stroke-width="0.9" />
<line x1="294.50" y1="294.32" x2="294.50" y2="313.59" stroke="#1a1a1a" stroke-width="0.9" />
<line x1="291.80" y1="294.32" x2="297.20" y2="294.32" stroke="#1a1a1a" stroke-width="0.9" />
<line x1="291.80" y1="313.59" x2="297.20" y2="313.59" stroke="#1a1a1a" stroke-width="0.9" />
<line x1="294.50" y1="270.45" x2="294.50" y2="284.77" stroke="#1a1a1a" stroke-width="0.9" />
<line x1="291.80" y1="270.45" x2="297.20" y2="270.45" stroke="#1a1a1a" stroke-width="0.9" />
<line x1="291.80" y1="284.77" x2="297.20" y2="284.77" stroke="#1a1a1a" stroke-width="0.9" />
<line x1="294.50" y1="259.17" x2="294.50" y2="265.68" stroke="#1a1a1a" stroke-width="0.9" />
<line x1="291.80" y1="259.17" x2="297.20" y2="259.17" stroke="#1a1a1a" stroke-width="0.9" />
<line x1="291.80" y1="265.68" x2="297.20" y2="265.68" stroke="#1a1a1a" stroke-width="0.9" />
<line x1="294.50" y1="346.40" x2="294.50" y2="350.20" stroke="#555" stroke-width="1" />
<text x="294.50" y="359.60" font-size="8.2" font-weight="bold" text-anchor="middle" fill="#111" >VCX</text>
<rect x="305.70" y="261.34" width="9.60" height="73.35" fill="#3db54a" stroke="none" stroke-width="0"/>
<rect x="305.70" y="334.68" width="9.60" height="3.91" fill="#ec3025" stroke="none" stroke-width="0"/>
<rect x="305.70" y="338.59" width="9.60" height="7.81" fill="#3953a4" stroke="none" stroke-width="0"/>
<rect x="305.70" y="261.34" width="9.6" height="85.06" fill="none" stroke="#2a2a2a" stroke-width="0.9"/>
<line x1="305.70" y1="334.68" x2="315.30" y2="334.68" stroke="#2a2a2a" stroke-width="0.9" />
<line x1="305.70" y1="338.59" x2="315.30" y2="338.59" stroke="#2a2a2a" stroke-width="0.9" />
<line x1="310.50" y1="333.38" x2="310.50" y2="339.46" stroke="#1a1a1a" stroke-width="0.9" />
<line x1="307.80" y1="333.38" x2="313.20" y2="333.38" stroke="#1a1a1a" stroke-width="0.9" />
<line x1="307.80" y1="339.46" x2="313.20" y2="339.46" stroke="#1a1a1a" stroke-width="0.9" />
<line x1="310.50" y1="260.47" x2="310.50" y2="261.77" stroke="#1a1a1a" stroke-width="0.9" />
<line x1="307.80" y1="260.47" x2="313.20" y2="260.47" stroke="#1a1a1a" stroke-width="0.9" />
<line x1="307.80" y1="261.77" x2="313.20" y2="261.77" stroke="#1a1a1a" stroke-width="0.9" />
<text x="310.50" y="333.14" font-size="8.6" font-weight="bold" text-anchor="middle" fill="#111" >***</text>
<line x1="310.50" y1="346.40" x2="310.50" y2="350.20" stroke="#555" stroke-width="1" />
<text x="310.50" y="359.60" font-size="8.2" font-weight="bold" text-anchor="middle" fill="#111" >CX</text>
<text x="399.50" y="230.30" font-size="10.2" font-weight="bold" text-anchor="middle" fill="#111" >AOCS14</text>
<line x1="365.00" y1="241.74" x2="365.00" y2="346.90" stroke="#555" stroke-width="1" />
<line x1="361.40" y1="346.40" x2="365.00" y2="346.40" stroke="#555" stroke-width="1" />
<text x="359.20" y="349.30" font-size="8.2" font-weight="bold" text-anchor="end" fill="#111" >0</text>
<line x1="361.40" y1="337.72" x2="365.00" y2="337.72" stroke="#555" stroke-width="1" />
<text x="359.20" y="340.62" font-size="8.2" font-weight="bold" text-anchor="end" fill="#111" >10</text>
<line x1="361.40" y1="329.04" x2="365.00" y2="329.04" stroke="#555" stroke-width="1" />
<text x="359.20" y="331.94" font-size="8.2" font-weight="bold" text-anchor="end" fill="#111" >20</text>
<line x1="361.40" y1="320.36" x2="365.00" y2="320.36" stroke="#555" stroke-width="1" />
<text x="359.20" y="323.26" font-size="8.2" font-weight="bold" text-anchor="end" fill="#111" >30</text>
<line x1="361.40" y1="311.68" x2="365.00" y2="311.68" stroke="#555" stroke-width="1" />
<text x="359.20" y="314.58" font-size="8.2" font-weight="bold" text-anchor="end" fill="#111" >40</text>
<line x1="361.40" y1="303.00" x2="365.00" y2="303.00" stroke="#555" stroke-width="1" />
<text x="359.20" y="305.90" font-size="8.2" font-weight="bold" text-anchor="end" fill="#111" >50</text>
<line x1="361.40" y1="294.32" x2="365.00" y2="294.32" stroke="#555" stroke-width="1" />
<text x="359.20" y="297.22" font-size="8.2" font-weight="bold" text-anchor="end" fill="#111" >60</text>
<line x1="361.40" y1="285.64" x2="365.00" y2="285.64" stroke="#555" stroke-width="1" />
<text x="359.20" y="288.54" font-size="8.2" font-weight="bold" text-anchor="end" fill="#111" >70</text>
<line x1="361.40" y1="276.96" x2="365.00" y2="276.96" stroke="#555" stroke-width="1" />
<text x="359.20" y="279.86" font-size="8.2" font-weight="bold" text-anchor="end" fill="#111" >80</text>
<line x1="361.40" y1="268.28" x2="365.00" y2="268.28" stroke="#555" stroke-width="1" />
<text x="359.20" y="271.18" font-size="8.2" font-weight="bold" text-anchor="end" fill="#111" >90</text>
<line x1="361.40" y1="259.60" x2="365.00" y2="259.60" stroke="#555" stroke-width="1" />
<text x="359.20" y="262.50" font-size="8.2" font-weight="bold" text-anchor="end" fill="#111" >100</text>
<line x1="361.40" y1="250.92" x2="365.00" y2="250.92" stroke="#555" stroke-width="1" />
<text x="359.20" y="253.82" font-size="8.2" font-weight="bold" text-anchor="end" fill="#111" >110</text>
<line x1="361.40" y1="242.24" x2="365.00" y2="242.24" stroke="#555" stroke-width="1" />
<text x="359.20" y="245.14" font-size="8.2" font-weight="bold" text-anchor="end" fill="#111" >120</text>
<line x1="365.00" y1="346.40" x2="434.20" y2="346.40" stroke="#555" stroke-width="1" />
<text x="0.00" y="0.00" font-size="8.4" font-weight="bold" text-anchor="middle" fill="#111" transform="translate(341.40,294.70) rotate(-90)">% of cells</text>
<rect x="371.20" y="259.60" width="9.60" height="17.36" fill="#3db54a" stroke="none" stroke-width="0"/>
<rect x="371.20" y="276.96" width="9.60" height="25.17" fill="#ec3025" stroke="none" stroke-width="0"/>
<rect x="371.20" y="302.13" width="9.60" height="44.27" fill="#3953a4" stroke="none" stroke-width="0"/>
<rect x="371.20" y="259.60" width="9.6" height="86.80" fill="none" stroke="#2a2a2a" stroke-width="0.9"/>
<line x1="371.20" y1="276.96" x2="380.80" y2="276.96" stroke="#2a2a2a" stroke-width="0.9" />
<line x1="371.20" y1="302.13" x2="380.80" y2="302.13" stroke="#2a2a2a" stroke-width="0.9" />
<line x1="376.00" y1="296.49" x2="376.00" y2="306.47" stroke="#1a1a1a" stroke-width="0.9" />
<line x1="373.30" y1="296.49" x2="378.70" y2="296.49" stroke="#1a1a1a" stroke-width="0.9" />
<line x1="373.30" y1="306.47" x2="378.70" y2="306.47" stroke="#1a1a1a" stroke-width="0.9" />
<line x1="376.00" y1="271.75" x2="376.00" y2="282.17" stroke="#1a1a1a" stroke-width="0.9" />
<line x1="373.30" y1="271.75" x2="378.70" y2="271.75" stroke="#1a1a1a" stroke-width="0.9" />
<line x1="373.30" y1="282.17" x2="378.70" y2="282.17" stroke="#1a1a1a" stroke-width="0.9" />
<line x1="376.00" y1="246.15" x2="376.00" y2="271.75" stroke="#1a1a1a" stroke-width="0.9" />
<line x1="373.30" y1="246.15" x2="378.70" y2="246.15" stroke="#1a1a1a" stroke-width="0.9" />
<line x1="373.30" y1="271.75" x2="378.70" y2="271.75" stroke="#1a1a1a" stroke-width="0.9" />
<line x1="376.00" y1="346.40" x2="376.00" y2="350.20" stroke="#555" stroke-width="1" />
<text x="376.00" y="359.60" font-size="8.2" font-weight="bold" text-anchor="middle" fill="#111" >VCP</text>
<rect x="387.20" y="262.20" width="9.60" height="55.55" fill="#3db54a" stroke="none" stroke-width="0"/>
<rect x="387.20" y="317.76" width="9.60" height="0.43" fill="#ec3025" stroke="none" stroke-width="0"/>
<rect x="387.20" y="318.19" width="9.60" height="28.21" fill="#3953a4" stroke="none" stroke-width="0"/>
<rect x="387.20" y="262.20" width="9.6" height="84.20" fill="none" stroke="#2a2a2a" stroke-width="0.9"/>
<line x1="387.20" y1="317.76" x2="396.80" y2="317.76" stroke="#2a2a2a" stroke-width="0.9" />
<line x1="387.20" y1="318.19" x2="396.80" y2="318.19" stroke="#2a2a2a" stroke-width="0.9" />
<line x1="392.00" y1="315.15" x2="392.00" y2="320.36" stroke="#1a1a1a" stroke-width="0.9" />
<line x1="389.30" y1="315.15" x2="394.70" y2="315.15" stroke="#1a1a1a" stroke-width="0.9" />
<line x1="389.30" y1="320.36" x2="394.70" y2="320.36" stroke="#1a1a1a" stroke-width="0.9" />
<line x1="392.00" y1="259.60" x2="392.00" y2="263.94" stroke="#1a1a1a" stroke-width="0.9" />
<line x1="389.30" y1="259.60" x2="394.70" y2="259.60" stroke="#1a1a1a" stroke-width="0.9" />
<line x1="389.30" y1="263.94" x2="394.70" y2="263.94" stroke="#1a1a1a" stroke-width="0.9" />
<text x="392.00" y="314.91" font-size="8.6" font-weight="bold" text-anchor="middle" fill="#111" >****</text>
<line x1="392.00" y1="346.40" x2="392.00" y2="350.20" stroke="#555" stroke-width="1" />
<text x="392.00" y="359.60" font-size="8.2" font-weight="bold" text-anchor="middle" fill="#111" >CP</text>
<rect x="403.20" y="266.11" width="9.60" height="9.98" fill="#3db54a" stroke="none" stroke-width="0"/>
<rect x="403.20" y="276.09" width="9.60" height="29.08" fill="#ec3025" stroke="none" stroke-width="0"/>
<rect x="403.20" y="305.17" width="9.60" height="41.23" fill="#3953a4" stroke="none" stroke-width="0"/>
<rect x="403.20" y="266.11" width="9.6" height="80.29" fill="none" stroke="#2a2a2a" stroke-width="0.9"/>
<line x1="403.20" y1="276.09" x2="412.80" y2="276.09" stroke="#2a2a2a" stroke-width="0.9" />
<line x1="403.20" y1="305.17" x2="412.80" y2="305.17" stroke="#2a2a2a" stroke-width="0.9" />
<line x1="408.00" y1="299.53" x2="408.00" y2="310.38" stroke="#1a1a1a" stroke-width="0.9" />
<line x1="405.30" y1="299.53" x2="410.70" y2="299.53" stroke="#1a1a1a" stroke-width="0.9" />
<line x1="405.30" y1="310.38" x2="410.70" y2="310.38" stroke="#1a1a1a" stroke-width="0.9" />
<line x1="408.00" y1="269.15" x2="408.00" y2="282.60" stroke="#1a1a1a" stroke-width="0.9" />
<line x1="405.30" y1="269.15" x2="410.70" y2="269.15" stroke="#1a1a1a" stroke-width="0.9" />
<line x1="405.30" y1="282.60" x2="410.70" y2="282.60" stroke="#1a1a1a" stroke-width="0.9" />
<line x1="408.00" y1="263.07" x2="408.00" y2="269.15" stroke="#1a1a1a" stroke-width="0.9" />
<line x1="405.30" y1="263.07" x2="410.70" y2="263.07" stroke="#1a1a1a" stroke-width="0.9" />
<line x1="405.30" y1="269.15" x2="410.70" y2="269.15" stroke="#1a1a1a" stroke-width="0.9" />
<line x1="408.00" y1="346.40" x2="408.00" y2="350.20" stroke="#555" stroke-width="1" />
<text x="408.00" y="359.60" font-size="8.2" font-weight="bold" text-anchor="middle" fill="#111" >VCX</text>
<rect x="419.20" y="262.64" width="9.60" height="49.91" fill="#3db54a" stroke="none" stroke-width="0"/>
<rect x="419.20" y="312.55" width="9.60" height="0.43" fill="#ec3025" stroke="none" stroke-width="0"/>
<rect x="419.20" y="312.98" width="9.60" height="33.42" fill="#3953a4" stroke="none" stroke-width="0"/>
<rect x="419.20" y="262.64" width="9.6" height="83.76" fill="none" stroke="#2a2a2a" stroke-width="0.9"/>
<line x1="419.20" y1="312.55" x2="428.80" y2="312.55" stroke="#2a2a2a" stroke-width="0.9" />
<line x1="419.20" y1="312.98" x2="428.80" y2="312.98" stroke="#2a2a2a" stroke-width="0.9" />
<line x1="424.00" y1="312.37" x2="424.00" y2="313.42" stroke="#1a1a1a" stroke-width="0.9" />
<line x1="421.30" y1="312.37" x2="426.70" y2="312.37" stroke="#1a1a1a" stroke-width="0.9" />
<line x1="421.30" y1="313.42" x2="426.70" y2="313.42" stroke="#1a1a1a" stroke-width="0.9" />
<line x1="424.00" y1="261.34" x2="424.00" y2="263.07" stroke="#1a1a1a" stroke-width="0.9" />
<line x1="421.30" y1="261.34" x2="426.70" y2="261.34" stroke="#1a1a1a" stroke-width="0.9" />
<line x1="421.30" y1="263.07" x2="426.70" y2="263.07" stroke="#1a1a1a" stroke-width="0.9" />
<text x="424.00" y="313.18" font-size="8.6" font-weight="bold" text-anchor="middle" fill="#111" >****</text>
<line x1="424.00" y1="346.40" x2="424.00" y2="350.20" stroke="#555" stroke-width="1" />
<text x="424.00" y="359.60" font-size="8.2" font-weight="bold" text-anchor="middle" fill="#111" >CX</text>
<text x="506.30" y="230.30" font-size="10.2" font-weight="bold" text-anchor="middle" fill="#111" >AOCS30</text>
<line x1="471.80" y1="241.74" x2="471.80" y2="346.90" stroke="#555" stroke-width="1" />
<line x1="468.20" y1="346.40" x2="471.80" y2="346.40" stroke="#555" stroke-width="1" />
<text x="466.00" y="349.30" font-size="8.2" font-weight="bold" text-anchor="end" fill="#111" >0</text>
<line x1="468.20" y1="337.72" x2="471.80" y2="337.72" stroke="#555" stroke-width="1" />
<text x="466.00" y="340.62" font-size="8.2" font-weight="bold" text-anchor="end" fill="#111" >10</text>
<line x1="468.20" y1="329.04" x2="471.80" y2="329.04" stroke="#555" stroke-width="1" />
<text x="466.00" y="331.94" font-size="8.2" font-weight="bold" text-anchor="end" fill="#111" >20</text>
<line x1="468.20" y1="320.36" x2="471.80" y2="320.36" stroke="#555" stroke-width="1" />
<text x="466.00" y="323.26" font-size="8.2" font-weight="bold" text-anchor="end" fill="#111" >30</text>
<line x1="468.20" y1="311.68" x2="471.80" y2="311.68" stroke="#555" stroke-width="1" />
<text x="466.00" y="314.58" font-size="8.2" font-weight="bold" text-anchor="end" fill="#111" >40</text>
<line x1="468.20" y1="303.00" x2="471.80" y2="303.00" stroke="#555" stroke-width="1" />
<text x="466.00" y="305.90" font-size="8.2" font-weight="bold" text-anchor="end" fill="#111" >50</text>
<line x1="468.20" y1="294.32" x2="471.80" y2="294.32" stroke="#555" stroke-width="1" />
<text x="466.00" y="297.22" font-size="8.2" font-weight="bold" text-anchor="end" fill="#111" >60</text>
<line x1="468.20" y1="285.64" x2="471.80" y2="285.64" stroke="#555" stroke-width="1" />
<text x="466.00" y="288.54" font-size="8.2" font-weight="bold" text-anchor="end" fill="#111" >70</text>
<line x1="468.20" y1="276.96" x2="471.80" y2="276.96" stroke="#555" stroke-width="1" />
<text x="466.00" y="279.86" font-size="8.2" font-weight="bold" text-anchor="end" fill="#111" >80</text>
<line x1="468.20" y1="268.28" x2="471.80" y2="268.28" stroke="#555" stroke-width="1" />
<text x="466.00" y="271.18" font-size="8.2" font-weight="bold" text-anchor="end" fill="#111" >90</text>
<line x1="468.20" y1="259.60" x2="471.80" y2="259.60" stroke="#555" stroke-width="1" />
<text x="466.00" y="262.50" font-size="8.2" font-weight="bold" text-anchor="end" fill="#111" >100</text>
<line x1="468.20" y1="250.92" x2="471.80" y2="250.92" stroke="#555" stroke-width="1" />
<text x="466.00" y="253.82" font-size="8.2" font-weight="bold" text-anchor="end" fill="#111" >110</text>
<line x1="468.20" y1="242.24" x2="471.80" y2="242.24" stroke="#555" stroke-width="1" />
<text x="466.00" y="245.14" font-size="8.2" font-weight="bold" text-anchor="end" fill="#111" >120</text>
<line x1="471.80" y1="346.40" x2="541.00" y2="346.40" stroke="#555" stroke-width="1" />
<text x="0.00" y="0.00" font-size="8.4" font-weight="bold" text-anchor="middle" fill="#111" transform="translate(448.20,294.70) rotate(-90)">% of cells</text>
<rect x="478.00" y="263.51" width="9.60" height="11.28" fill="#3db54a" stroke="none" stroke-width="0"/>
<rect x="478.00" y="274.79" width="9.60" height="27.78" fill="#ec3025" stroke="none" stroke-width="0"/>
<rect x="478.00" y="302.57" width="9.60" height="43.83" fill="#3953a4" stroke="none" stroke-width="0"/>
<rect x="478.00" y="263.51" width="9.6" height="82.89" fill="none" stroke="#2a2a2a" stroke-width="0.9"/>
<line x1="478.00" y1="274.79" x2="487.60" y2="274.79" stroke="#2a2a2a" stroke-width="0.9" />
<line x1="478.00" y1="302.57" x2="487.60" y2="302.57" stroke="#2a2a2a" stroke-width="0.9" />
<line x1="482.80" y1="298.66" x2="482.80" y2="306.47" stroke="#1a1a1a" stroke-width="0.9" />
<line x1="480.10" y1="298.66" x2="485.50" y2="298.66" stroke="#1a1a1a" stroke-width="0.9" />
<line x1="480.10" y1="306.47" x2="485.50" y2="306.47" stroke="#1a1a1a" stroke-width="0.9" />
<line x1="482.80" y1="268.28" x2="482.80" y2="280.17" stroke="#1a1a1a" stroke-width="0.9" />
<line x1="480.10" y1="268.28" x2="485.50" y2="268.28" stroke="#1a1a1a" stroke-width="0.9" />
<line x1="480.10" y1="280.17" x2="485.50" y2="280.17" stroke="#1a1a1a" stroke-width="0.9" />
<line x1="482.80" y1="260.82" x2="482.80" y2="265.68" stroke="#1a1a1a" stroke-width="0.9" />
<line x1="480.10" y1="260.82" x2="485.50" y2="260.82" stroke="#1a1a1a" stroke-width="0.9" />
<line x1="480.10" y1="265.68" x2="485.50" y2="265.68" stroke="#1a1a1a" stroke-width="0.9" />
<line x1="482.80" y1="346.40" x2="482.80" y2="350.20" stroke="#555" stroke-width="1" />
<text x="482.80" y="359.60" font-size="8.2" font-weight="bold" text-anchor="middle" fill="#111" >VCP</text>
<rect x="494.00" y="264.37" width="9.60" height="53.38" fill="#3db54a" stroke="none" stroke-width="0"/>
<rect x="494.00" y="317.76" width="9.60" height="2.60" fill="#ec3025" stroke="none" stroke-width="0"/>
<rect x="494.00" y="320.36" width="9.60" height="26.04" fill="#3953a4" stroke="none" stroke-width="0"/>
<rect x="494.00" y="264.37" width="9.6" height="82.03" fill="none" stroke="#2a2a2a" stroke-width="0.9"/>
<line x1="494.00" y1="317.76" x2="503.60" y2="317.76" stroke="#2a2a2a" stroke-width="0.9" />
<line x1="494.00" y1="320.36" x2="503.60" y2="320.36" stroke="#2a2a2a" stroke-width="0.9" />
<line x1="498.80" y1="316.02" x2="498.80" y2="324.27" stroke="#1a1a1a" stroke-width="0.9" />
<line x1="496.10" y1="316.02" x2="501.50" y2="316.02" stroke="#1a1a1a" stroke-width="0.9" />
<line x1="496.10" y1="324.27" x2="501.50" y2="324.27" stroke="#1a1a1a" stroke-width="0.9" />
<line x1="498.80" y1="257.60" x2="498.80" y2="270.88" stroke="#1a1a1a" stroke-width="0.9" />
<line x1="496.10" y1="257.60" x2="501.50" y2="257.60" stroke="#1a1a1a" stroke-width="0.9" />
<line x1="496.10" y1="270.88" x2="501.50" y2="270.88" stroke="#1a1a1a" stroke-width="0.9" />
<text x="498.80" y="315.35" font-size="8.6" font-weight="bold" text-anchor="middle" fill="#111" >****</text>
<line x1="498.80" y1="346.40" x2="498.80" y2="350.20" stroke="#555" stroke-width="1" />
<text x="498.80" y="359.60" font-size="8.2" font-weight="bold" text-anchor="middle" fill="#111" >CP</text>
<rect x="510.00" y="263.94" width="9.60" height="11.28" fill="#3db54a" stroke="none" stroke-width="0"/>
<rect x="510.00" y="275.22" width="9.60" height="27.78" fill="#ec3025" stroke="none" stroke-width="0"/>
<rect x="510.00" y="303.00" width="9.60" height="43.40" fill="#3953a4" stroke="none" stroke-width="0"/>
<rect x="510.00" y="263.94" width="9.6" height="82.46" fill="none" stroke="#2a2a2a" stroke-width="0.9"/>
<line x1="510.00" y1="275.22" x2="519.60" y2="275.22" stroke="#2a2a2a" stroke-width="0.9" />
<line x1="510.00" y1="303.00" x2="519.60" y2="303.00" stroke="#2a2a2a" stroke-width="0.9" />
<line x1="514.80" y1="299.09" x2="514.80" y2="306.47" stroke="#1a1a1a" stroke-width="0.9" />
<line x1="512.10" y1="299.09" x2="517.50" y2="299.09" stroke="#1a1a1a" stroke-width="0.9" />
<line x1="512.10" y1="306.47" x2="517.50" y2="306.47" stroke="#1a1a1a" stroke-width="0.9" />
<line x1="514.80" y1="272.19" x2="514.80" y2="276.18" stroke="#1a1a1a" stroke-width="0.9" />
<line x1="512.10" y1="272.19" x2="517.50" y2="272.19" stroke="#1a1a1a" stroke-width="0.9" />
<line x1="512.10" y1="276.18" x2="517.50" y2="276.18" stroke="#1a1a1a" stroke-width="0.9" />
<line x1="514.80" y1="262.38" x2="514.80" y2="265.68" stroke="#1a1a1a" stroke-width="0.9" />
<line x1="512.10" y1="262.38" x2="517.50" y2="262.38" stroke="#1a1a1a" stroke-width="0.9" />
<line x1="512.10" y1="265.68" x2="517.50" y2="265.68" stroke="#1a1a1a" stroke-width="0.9" />
<line x1="514.80" y1="346.40" x2="514.80" y2="350.20" stroke="#555" stroke-width="1" />
<text x="514.80" y="359.60" font-size="8.2" font-weight="bold" text-anchor="middle" fill="#111" >VCX</text>
<rect x="526.00" y="263.07" width="9.60" height="59.02" fill="#3db54a" stroke="none" stroke-width="0"/>
<rect x="526.00" y="322.10" width="9.60" height="0.87" fill="#ec3025" stroke="none" stroke-width="0"/>
<rect x="526.00" y="322.96" width="9.60" height="23.44" fill="#3953a4" stroke="none" stroke-width="0"/>
<rect x="526.00" y="263.07" width="9.6" height="83.33" fill="none" stroke="#2a2a2a" stroke-width="0.9"/>
<line x1="526.00" y1="322.10" x2="535.60" y2="322.10" stroke="#2a2a2a" stroke-width="0.9" />
<line x1="526.00" y1="322.96" x2="535.60" y2="322.96" stroke="#2a2a2a" stroke-width="0.9" />
<line x1="530.80" y1="320.36" x2="530.80" y2="324.70" stroke="#1a1a1a" stroke-width="0.9" />
<line x1="528.10" y1="320.36" x2="533.50" y2="320.36" stroke="#1a1a1a" stroke-width="0.9" />
<line x1="528.10" y1="324.70" x2="533.50" y2="324.70" stroke="#1a1a1a" stroke-width="0.9" />
<line x1="530.80" y1="260.29" x2="530.80" y2="266.89" stroke="#1a1a1a" stroke-width="0.9" />
<line x1="528.10" y1="260.29" x2="533.50" y2="260.29" stroke="#1a1a1a" stroke-width="0.9" />
<line x1="528.10" y1="266.89" x2="533.50" y2="266.89" stroke="#1a1a1a" stroke-width="0.9" />
<text x="530.80" y="320.55" font-size="8.6" font-weight="bold" text-anchor="middle" fill="#111" >****</text>
<line x1="530.80" y1="346.40" x2="530.80" y2="350.20" stroke="#555" stroke-width="1" />
<text x="530.80" y="359.60" font-size="8.2" font-weight="bold" text-anchor="middle" fill="#111" >CX</text>
<rect x="544.9" y="246.30" width="11.3" height="6.3" fill="#3953a4" stroke="#2a2a2a" stroke-width="0.9"/>
<text x="562.60" y="252.60" font-size="8.9" font-weight="normal" text-anchor="start" fill="#222" >G0/G1</text>
<rect x="544.9" y="261.00" width="11.3" height="6.3" fill="#ec3025" stroke="#2a2a2a" stroke-width="0.9"/>
<text x="562.60" y="267.30" font-size="8.9" font-weight="normal" text-anchor="start" fill="#222" >S</text>
<rect x="544.9" y="275.70" width="11.3" height="6.3" fill="#3db54a" stroke="#2a2a2a" stroke-width="0.9"/>
<text x="562.60" y="282.00" font-size="8.9" font-weight="normal" text-anchor="start" fill="#222" >G2/M</text>
<text x="0.80" y="381.50" font-size="18.6" font-weight="bold" text-anchor="start" fill="#111" >D</text>
<text x="151.70" y="378.00" font-size="13" font-weight="bold" text-anchor="start" fill="#111" >Cisplatin</text>
<line x1="140.50" y1="388.30" x2="140.50" y2="653.90" stroke="#555" stroke-width="1" />
<line x1="140.00" y1="653.40" x2="274.40" y2="653.40" stroke="#555" stroke-width="1" />
<line x1="138.50" y1="396.10" x2="140.50" y2="396.10" stroke="#555" stroke-width="0.8" />
<text x="137.80" y="398.40" font-size="6.55" font-weight="normal" text-anchor="end" fill="#1a1a1a" >TNFA_SIGNALING_VIA_NFKB</text>
<circle cx="155.80" cy="396.10" r="4.20" fill="#f4896c"/>
<circle cx="181.80" cy="396.10" r="4.20" fill="#ee553c"/>
<circle cx="207.60" cy="396.10" r="4.20" fill="#ee553c"/>
<circle cx="233.20" cy="396.10" r="4.20" fill="#f0664b"/>
<circle cx="259.10" cy="396.10" r="4.20" fill="#ea3b2c"/>
<line x1="138.50" y1="409.25" x2="140.50" y2="409.25" stroke="#555" stroke-width="0.8" />
<text x="137.80" y="411.55" font-size="6.55" font-weight="normal" text-anchor="end" fill="#1a1a1a" >INFLAMMATORY_RESPONSE</text>
<circle cx="155.80" cy="409.25" r="3.40" fill="#f8aa91"/>
<circle cx="181.80" cy="409.25" r="4.20" fill="#f0664b"/>
<circle cx="207.60" cy="409.25" r="4.20" fill="#ee553c"/>
<circle cx="233.20" cy="409.25" r="4.20" fill="#f69a7f"/>
<circle cx="259.10" cy="409.25" r="4.20" fill="#f2775a"/>
<line x1="138.50" y1="422.40" x2="140.50" y2="422.40" stroke="#555" stroke-width="0.8" />
<text x="137.80" y="424.70" font-size="6.55" font-weight="normal" text-anchor="end" fill="#1a1a1a" >KRAS_SIGNALING_UP</text>
<circle cx="155.80" cy="422.40" r="4.20" fill="#f8aa91"/>
<circle cx="181.80" cy="422.40" r="4.20" fill="#f0664b"/>
<circle cx="207.60" cy="422.40" r="4.20" fill="#f69a7f"/>
<circle cx="233.20" cy="422.40" r="4.20" fill="#f8aa91"/>
<circle cx="259.10" cy="422.40" r="4.20" fill="#f2775a"/>
<line x1="138.50" y1="435.55" x2="140.50" y2="435.55" stroke="#555" stroke-width="0.8" />
<text x="137.80" y="437.85" font-size="6.55" font-weight="normal" text-anchor="end" fill="#1a1a1a" >EPITHELIAL_MESENCHYMAL_TRANSITION</text>
<circle cx="155.80" cy="435.55" r="4.20" fill="#f69a7f"/>
<circle cx="181.80" cy="435.55" r="4.20" fill="#f69a7f"/>
<circle cx="207.60" cy="435.55" r="4.20" fill="#f2775a"/>
<circle cx="233.20" cy="435.55" r="4.20" fill="#f69a7f"/>
<circle cx="259.10" cy="435.55" r="4.20" fill="#f69a7f"/>
<line x1="138.50" y1="448.70" x2="140.50" y2="448.70" stroke="#555" stroke-width="0.8" />
<text x="137.80" y="451.00" font-size="6.55" font-weight="normal" text-anchor="end" fill="#1a1a1a" >INTERFERON_GAMMA_RESPONSE</text>
<circle cx="155.80" cy="448.70" r="1.80" fill="#cdbfe1"/>
<circle cx="181.80" cy="448.70" r="4.20" fill="#e8262a"/>
<circle cx="207.60" cy="448.70" r="4.20" fill="#f2775a"/>
<circle cx="233.20" cy="448.70" r="4.20" fill="#f69a7f"/>
<circle cx="259.10" cy="448.70" r="4.20" fill="#f2775a"/>
<line x1="138.50" y1="461.85" x2="140.50" y2="461.85" stroke="#555" stroke-width="0.8" />
<text x="137.80" y="464.15" font-size="6.55" font-weight="normal" text-anchor="end" fill="#1a1a1a" >HYPOXIA</text>
<circle cx="155.80" cy="461.85" r="4.20" fill="#f8aa91"/>
<circle cx="181.80" cy="461.85" r="4.20" fill="#f4896c"/>
<circle cx="207.60" cy="461.85" r="4.20" fill="#f69a7f"/>
<circle cx="233.20" cy="461.85" r="4.20" fill="#f8aa91"/>
<circle cx="259.10" cy="461.85" r="4.20" fill="#f4896c"/>
<line x1="138.50" y1="475.00" x2="140.50" y2="475.00" stroke="#555" stroke-width="0.8" />
<text x="137.80" y="477.30" font-size="6.55" font-weight="normal" text-anchor="end" fill="#1a1a1a" >INTERFERON_ALPHA_RESPONSE</text>
<circle cx="155.80" cy="475.00" r="1.80" fill="#cdbfe1"/>
<circle cx="181.80" cy="475.00" r="4.20" fill="#e8262a"/>
<circle cx="207.60" cy="475.00" r="4.20" fill="#f2775a"/>
<circle cx="233.20" cy="475.00" r="4.20" fill="#f8aa91"/>
<circle cx="259.10" cy="475.00" r="4.20" fill="#f4896c"/>
<line x1="138.50" y1="488.15" x2="140.50" y2="488.15" stroke="#555" stroke-width="0.8" />
<text x="137.80" y="490.45" font-size="6.55" font-weight="normal" text-anchor="end" fill="#1a1a1a" >P53_PATHWAY</text>
<circle cx="155.80" cy="488.15" r="3.40" fill="#f9b9a2"/>
<circle cx="181.80" cy="488.15" r="4.20" fill="#f4896c"/>
<circle cx="207.60" cy="488.15" r="4.20" fill="#f69a7f"/>
<circle cx="233.20" cy="488.15" r="4.20" fill="#f8aa91"/>
<circle cx="259.10" cy="488.15" r="4.20" fill="#f4896c"/>
<line x1="138.50" y1="501.30" x2="140.50" y2="501.30" stroke="#555" stroke-width="0.8" />
<text x="137.80" y="503.60" font-size="6.55" font-weight="normal" text-anchor="end" fill="#1a1a1a" >IL2_STAT5_SIGNALING</text>
<circle cx="155.80" cy="501.30" r="2.70" fill="#f9b9a2"/>
<circle cx="181.80" cy="501.30" r="4.20" fill="#f8aa91"/>
<circle cx="207.60" cy="501.30" r="4.20" fill="#f2775a"/>
<circle cx="233.20" cy="501.30" r="2.70" fill="#f9b9a2"/>
<circle cx="259.10" cy="501.30" r="4.20" fill="#f4896c"/>
<line x1="138.50" y1="514.45" x2="140.50" y2="514.45" stroke="#555" stroke-width="0.8" />
<text x="137.80" y="516.75" font-size="6.55" font-weight="normal" text-anchor="end" fill="#1a1a1a" >COAGULATION</text>
<circle cx="155.80" cy="514.45" r="2.70" fill="#f9b9a2"/>
<circle cx="181.80" cy="514.45" r="4.20" fill="#f8aa91"/>
<circle cx="207.60" cy="514.45" r="4.20" fill="#f2775a"/>
<circle cx="233.20" cy="514.45" r="2.70" fill="#f9b9a2"/>
<circle cx="259.10" cy="514.45" r="4.20" fill="#f8aa91"/>
<line x1="138.50" y1="527.60" x2="140.50" y2="527.60" stroke="#555" stroke-width="0.8" />
<text x="137.80" y="529.90" font-size="6.55" font-weight="normal" text-anchor="end" fill="#1a1a1a" >ADIPOGENESIS</text>
<circle cx="155.80" cy="527.60" r="4.20" fill="#9b89c7"/>
<circle cx="181.80" cy="527.60" r="1.80" fill="#cdbfe1"/>
<circle cx="207.60" cy="527.60" r="4.20" fill="#b3a3d4"/>
<circle cx="233.20" cy="527.60" r="4.20" fill="#a795ce"/>
<circle cx="259.10" cy="527.60" r="4.20" fill="#9b89c7"/>
<line x1="138.50" y1="540.75" x2="140.50" y2="540.75" stroke="#555" stroke-width="0.8" />
<text x="137.80" y="543.05" font-size="6.55" font-weight="normal" text-anchor="end" fill="#1a1a1a" >PEROXISOME</text>
<circle cx="155.80" cy="540.75" r="4.20" fill="#a795ce"/>
<circle cx="181.80" cy="540.75" r="3.40" fill="#c0b1da"/>
<circle cx="207.60" cy="540.75" r="2.70" fill="#cdbfe1"/>
<circle cx="233.20" cy="540.75" r="4.20" fill="#9b89c7"/>
<circle cx="259.10" cy="540.75" r="4.20" fill="#a795ce"/>
<line x1="138.50" y1="553.90" x2="140.50" y2="553.90" stroke="#555" stroke-width="0.8" />
<text x="137.80" y="556.20" font-size="6.55" font-weight="normal" text-anchor="end" fill="#1a1a1a" >CHOLESTEROL_HOMEOSTASIS</text>
<circle cx="155.80" cy="553.90" r="4.20" fill="#a795ce"/>
<circle cx="181.80" cy="553.90" r="3.40" fill="#b3a3d4"/>
<circle cx="207.60" cy="553.90" r="4.20" fill="#9b89c7"/>
<circle cx="233.20" cy="553.90" r="4.20" fill="#9b89c7"/>
<circle cx="259.10" cy="553.90" r="4.20" fill="#7e6db5"/>
<line x1="138.50" y1="567.05" x2="140.50" y2="567.05" stroke="#555" stroke-width="0.8" />
<text x="137.80" y="569.35" font-size="6.55" font-weight="normal" text-anchor="end" fill="#1a1a1a" >MTORC1_SIGNALING</text>
<circle cx="155.80" cy="567.05" r="4.20" fill="#9b89c7"/>
<circle cx="181.80" cy="567.05" r="4.20" fill="#9b89c7"/>
<circle cx="207.60" cy="567.05" r="4.20" fill="#8e7cbe"/>
<circle cx="233.20" cy="567.05" r="4.20" fill="#8e7cbe"/>
<circle cx="259.10" cy="567.05" r="4.20" fill="#b3a3d4"/>
<line x1="138.50" y1="580.20" x2="140.50" y2="580.20" stroke="#555" stroke-width="0.8" />
<text x="137.80" y="582.50" font-size="6.55" font-weight="normal" text-anchor="end" fill="#1a1a1a" >MYC_TARGETS_V2</text>
<circle cx="155.80" cy="580.20" r="4.20" fill="#8e7cbe"/>
<circle cx="181.80" cy="580.20" r="4.20" fill="#5f58a8"/>
<circle cx="207.60" cy="580.20" r="2.70" fill="#c0b1da"/>
<circle cx="233.20" cy="580.20" r="4.20" fill="#8e7cbe"/>
<circle cx="259.10" cy="580.20" r="1.80" fill="#cdbfe1"/>
<line x1="138.50" y1="593.35" x2="140.50" y2="593.35" stroke="#555" stroke-width="0.8" />
<text x="137.80" y="595.65" font-size="6.55" font-weight="normal" text-anchor="end" fill="#1a1a1a" >OXIDATIVE_PHOSPHORYLATION</text>
<circle cx="155.80" cy="593.35" r="4.20" fill="#7e6db5"/>
<circle cx="181.80" cy="593.35" r="2.70" fill="#c0b1da"/>
<circle cx="207.60" cy="593.35" r="4.20" fill="#6e61ad"/>
<circle cx="233.20" cy="593.35" r="4.20" fill="#b3a3d4"/>
<circle cx="259.10" cy="593.35" r="4.20" fill="#8e7cbe"/>
<line x1="138.50" y1="606.50" x2="140.50" y2="606.50" stroke="#555" stroke-width="0.8" />
<text x="137.80" y="608.80" font-size="6.55" font-weight="normal" text-anchor="end" fill="#1a1a1a" >G2M_CHECKPOINT</text>
<circle cx="155.80" cy="606.50" r="4.20" fill="#6e61ad"/>
<circle cx="181.80" cy="606.50" r="4.20" fill="#5f58a8"/>
<circle cx="207.60" cy="606.50" r="3.40" fill="#b3a3d4"/>
<circle cx="233.20" cy="606.50" r="4.20" fill="#9b89c7"/>
<circle cx="259.10" cy="606.50" r="4.20" fill="#b3a3d4"/>
<line x1="138.50" y1="619.65" x2="140.50" y2="619.65" stroke="#555" stroke-width="0.8" />
<text x="137.80" y="621.95" font-size="6.55" font-weight="normal" text-anchor="end" fill="#1a1a1a" >FATTY_ACID_METABOLISM</text>
<circle cx="155.80" cy="619.65" r="4.20" fill="#7e6db5"/>
<circle cx="181.80" cy="619.65" r="4.20" fill="#a795ce"/>
<circle cx="207.60" cy="619.65" r="4.20" fill="#a795ce"/>
<circle cx="233.20" cy="619.65" r="4.20" fill="#7e6db5"/>
<circle cx="259.10" cy="619.65" r="4.20" fill="#7e6db5"/>
<line x1="138.50" y1="632.80" x2="140.50" y2="632.80" stroke="#555" stroke-width="0.8" />
<text x="137.80" y="635.10" font-size="6.55" font-weight="normal" text-anchor="end" fill="#1a1a1a" >E2F_TARGETS</text>
<circle cx="155.80" cy="632.80" r="4.20" fill="#6e61ad"/>
<circle cx="181.80" cy="632.80" r="4.20" fill="#5f58a8"/>
<circle cx="207.60" cy="632.80" r="4.20" fill="#b3a3d4"/>
<circle cx="233.20" cy="632.80" r="4.20" fill="#8e7cbe"/>
<circle cx="259.10" cy="632.80" r="4.20" fill="#9b89c7"/>
<line x1="138.50" y1="645.95" x2="140.50" y2="645.95" stroke="#555" stroke-width="0.8" />
<text x="137.80" y="648.25" font-size="6.55" font-weight="normal" text-anchor="end" fill="#1a1a1a" >MYC_TARGETS_V1</text>
<circle cx="155.80" cy="645.95" r="4.20" fill="#7e6db5"/>
<circle cx="181.80" cy="645.95" r="4.20" fill="#3b50a1"/>
<circle cx="207.60" cy="645.95" r="4.20" fill="#5f58a8"/>
<circle cx="233.20" cy="645.95" r="4.20" fill="#6e61ad"/>
<circle cx="259.10" cy="645.95" r="4.20" fill="#5f58a8"/>
<line x1="155.80" y1="653.40" x2="155.80" y2="655.40" stroke="#555" stroke-width="0.8" />
<text x="155.50" y="660.80" font-size="6.45" font-weight="normal" text-anchor="middle" fill="#222" >AOCS14</text>
<line x1="181.80" y1="653.40" x2="181.80" y2="655.40" stroke="#555" stroke-width="0.8" />
<text x="183.30" y="660.80" font-size="6.45" font-weight="normal" text-anchor="middle" fill="#222" >AOCS30</text>
<line x1="207.60" y1="653.40" x2="207.60" y2="655.40" stroke="#555" stroke-width="0.8" />
<text x="206.70" y="660.80" font-size="6.45" font-weight="normal" text-anchor="middle" fill="#222" >OV3</text>
<line x1="233.20" y1="653.40" x2="233.20" y2="655.40" stroke="#555" stroke-width="0.8" />
<text x="232.50" y="660.80" font-size="6.45" font-weight="normal" text-anchor="middle" fill="#222" >OV4</text>
<line x1="259.10" y1="653.40" x2="259.10" y2="655.40" stroke="#555" stroke-width="0.8" />
<text x="258.00" y="660.80" font-size="6.45" font-weight="normal" text-anchor="middle" fill="#222" >OV8</text>
<text x="133.40" y="675.70" font-size="6.6" font-weight="normal" text-anchor="start" fill="#222" >p−value</text>
<circle cx="159.60" cy="673.40" r="1.60" fill="#000"/>
<text x="163.80" y="675.70" font-size="6.6" font-weight="normal" text-anchor="start" fill="#222" >0.5</text>
<circle cx="178.50" cy="673.40" r="3.00" fill="#000"/>
<text x="182.70" y="675.70" font-size="6.6" font-weight="normal" text-anchor="start" fill="#222" >0.05</text>
<circle cx="200.30" cy="673.40" r="4.20" fill="#000"/>
<text x="205.50" y="675.70" font-size="6.6" font-weight="normal" text-anchor="start" fill="#222" >0.005</text>
<text x="227.00" y="675.70" font-size="6.6" font-weight="normal" text-anchor="start" fill="#222" >NES</text>
<defs><linearGradient id="gD" x1="0" x2="1" y1="0" y2="0"><stop offset="0" stop-color="#4a4ea2"/><stop offset="0.18" stop-color="#6c62ae"/><stop offset="0.34" stop-color="#aea4d2"/><stop offset="0.5" stop-color="#fbf8fa"/><stop offset="0.66" stop-color="#f7bfae"/><stop offset="0.82" stop-color="#f07464"/><stop offset="1" stop-color="#e3232a"/></linearGradient></defs>
<rect x="242.00" y="668.20" width="37.00" height="7.90" fill="url(#gD)" stroke="none" stroke-width="0"/>
<line x1="250.10" y1="668.20" x2="250.10" y2="669.60" stroke="#fff" stroke-width="0.6" />
<line x1="250.10" y1="674.70" x2="250.10" y2="676.10" stroke="#fff" stroke-width="0.6" />
<text x="250.10" y="681.70" font-size="6.6" font-weight="normal" text-anchor="middle" fill="#222" >-2</text>
<line x1="260.30" y1="668.20" x2="260.30" y2="669.60" stroke="#fff" stroke-width="0.6" />
<line x1="260.30" y1="674.70" x2="260.30" y2="676.10" stroke="#fff" stroke-width="0.6" />
<text x="260.30" y="681.70" font-size="6.6" font-weight="normal" text-anchor="middle" fill="#222" >0</text>
<line x1="270.40" y1="668.20" x2="270.40" y2="669.60" stroke="#fff" stroke-width="0.6" />
<line x1="270.40" y1="674.70" x2="270.40" y2="676.10" stroke="#fff" stroke-width="0.6" />
<text x="270.40" y="681.70" font-size="6.6" font-weight="normal" text-anchor="middle" fill="#222" >2</text>
<text x="282.60" y="381.50" font-size="18.6" font-weight="bold" text-anchor="start" fill="#111" >E</text>
<text x="440.30" y="378.00" font-size="13" font-weight="bold" text-anchor="start" fill="#111" >CX-5461</text>
<line x1="396.50" y1="388.20" x2="396.50" y2="656.70" stroke="#555" stroke-width="1" />
<line x1="396.00" y1="656.20" x2="550.50" y2="656.20" stroke="#555" stroke-width="1" />
<line x1="394.50" y1="396.20" x2="396.50" y2="396.20" stroke="#555" stroke-width="0.8" />
<text x="394.80" y="398.50" font-size="6.55" font-weight="normal" text-anchor="end" fill="#1a1a1a" >TNFA_SIGNALING_VIA_NFKB</text>
<circle cx="414.60" cy="396.20" r="4.20" fill="#e8262a"/>
<circle cx="444.20" cy="396.20" r="4.20" fill="#e8262a"/>
<circle cx="473.80" cy="396.20" r="4.20" fill="#e8262a"/>
<circle cx="503.60" cy="396.20" r="4.20" fill="#ee553c"/>
<circle cx="533.20" cy="396.20" r="4.20" fill="#f0664b"/>
<line x1="394.50" y1="409.46" x2="396.50" y2="409.46" stroke="#555" stroke-width="0.8" />
<text x="394.80" y="411.76" font-size="6.55" font-weight="normal" text-anchor="end" fill="#1a1a1a" >INTERFERON_GAMMA_RESPONSE</text>
<circle cx="414.60" cy="409.46" r="4.20" fill="#ea3b2c"/>
<circle cx="444.20" cy="409.46" r="4.20" fill="#f0664b"/>
<circle cx="473.80" cy="409.46" r="4.20" fill="#f2775a"/>
<circle cx="503.60" cy="409.46" r="4.20" fill="#f4896c"/>
<circle cx="533.20" cy="409.46" r="1.80" fill="#f8aa91"/>
<line x1="394.50" y1="422.72" x2="396.50" y2="422.72" stroke="#555" stroke-width="0.8" />
<text x="394.80" y="425.02" font-size="6.55" font-weight="normal" text-anchor="end" fill="#1a1a1a" >UV_RESPONSE_UP</text>
<circle cx="414.60" cy="422.72" r="4.20" fill="#f4896c"/>
<circle cx="444.20" cy="422.72" r="4.20" fill="#f2775a"/>
<circle cx="473.80" cy="422.72" r="4.20" fill="#f4896c"/>
<circle cx="503.60" cy="422.72" r="4.20" fill="#f69a7f"/>
<circle cx="533.20" cy="422.72" r="4.20" fill="#f2775a"/>
<line x1="394.50" y1="435.98" x2="396.50" y2="435.98" stroke="#555" stroke-width="0.8" />
<text x="394.80" y="438.28" font-size="6.55" font-weight="normal" text-anchor="end" fill="#1a1a1a" >APOPTOSIS</text>
<circle cx="414.60" cy="435.98" r="4.20" fill="#f4896c"/>
<circle cx="444.20" cy="435.98" r="4.20" fill="#f2775a"/>
<circle cx="473.80" cy="435.98" r="4.20" fill="#f2775a"/>
<circle cx="503.60" cy="435.98" r="4.20" fill="#f69a7f"/>
<circle cx="533.20" cy="435.98" r="2.70" fill="#f9b9a2"/>
<line x1="394.50" y1="449.24" x2="396.50" y2="449.24" stroke="#555" stroke-width="0.8" />
<text x="394.80" y="451.54" font-size="6.55" font-weight="normal" text-anchor="end" fill="#1a1a1a" >INFLAMMATORY_RESPONSE</text>
<circle cx="414.60" cy="449.24" r="4.20" fill="#f0664b"/>
<circle cx="444.20" cy="449.24" r="4.20" fill="#f69a7f"/>
<circle cx="473.80" cy="449.24" r="4.20" fill="#ee553c"/>
<circle cx="503.60" cy="449.24" r="3.40" fill="#f8aa91"/>
<circle cx="533.20" cy="449.24" r="1.80" fill="#f9b9a2"/>
<line x1="394.50" y1="462.50" x2="396.50" y2="462.50" stroke="#555" stroke-width="0.8" />
<text x="394.80" y="464.80" font-size="6.55" font-weight="normal" text-anchor="end" fill="#1a1a1a" >P53_PATHWAY</text>
<circle cx="414.60" cy="462.50" r="4.20" fill="#f69a7f"/>
<circle cx="444.20" cy="462.50" r="4.20" fill="#f4896c"/>
<circle cx="473.80" cy="462.50" r="4.20" fill="#f2775a"/>
<circle cx="503.60" cy="462.50" r="4.20" fill="#f69a7f"/>
<circle cx="533.20" cy="462.50" r="4.20" fill="#f69a7f"/>
<line x1="394.50" y1="475.76" x2="396.50" y2="475.76" stroke="#555" stroke-width="0.8" />
<text x="394.80" y="478.06" font-size="6.55" font-weight="normal" text-anchor="end" fill="#1a1a1a" >INTERFERON_ALPHA_RESPONSE</text>
<circle cx="414.60" cy="475.76" r="4.20" fill="#ea3b2c"/>
<circle cx="444.20" cy="475.76" r="4.20" fill="#f0664b"/>
<circle cx="473.80" cy="475.76" r="4.20" fill="#f2775a"/>
<circle cx="503.60" cy="475.76" r="4.20" fill="#f69a7f"/>
<circle cx="533.20" cy="475.76" r="2.20" fill="#b3a3d4"/>
<line x1="394.50" y1="489.02" x2="396.50" y2="489.02" stroke="#555" stroke-width="0.8" />
<text x="394.80" y="491.32" font-size="6.55" font-weight="normal" text-anchor="end" fill="#1a1a1a" >ALLOGRAFT_REJECTION</text>
<circle cx="414.60" cy="489.02" r="4.20" fill="#f69a7f"/>
<circle cx="444.20" cy="489.02" r="4.20" fill="#f69a7f"/>
<circle cx="473.80" cy="489.02" r="4.20" fill="#f0664b"/>
<circle cx="503.60" cy="489.02" r="2.20" fill="#f8aa91"/>
<circle cx="533.20" cy="489.02" r="1.80" fill="#f9b9a2"/>
<line x1="394.50" y1="502.28" x2="396.50" y2="502.28" stroke="#555" stroke-width="0.8" />
<text x="394.80" y="504.58" font-size="6.55" font-weight="normal" text-anchor="end" fill="#1a1a1a" >KRAS_SIGNALING_UP</text>
<circle cx="414.60" cy="502.28" r="4.20" fill="#f0664b"/>
<circle cx="444.20" cy="502.28" r="4.20" fill="#f4896c"/>
<circle cx="473.80" cy="502.28" r="4.20" fill="#f2775a"/>
<circle cx="503.60" cy="502.28" r="2.20" fill="#b3a3d4"/>
<circle cx="533.20" cy="502.28" r="2.70" fill="#f8aa91"/>
<line x1="394.50" y1="515.54" x2="396.50" y2="515.54" stroke="#555" stroke-width="0.8" />
<text x="394.80" y="517.84" font-size="6.55" font-weight="normal" text-anchor="end" fill="#1a1a1a" >IL6_JAK_STAT3_SIGNALING</text>
<circle cx="414.60" cy="515.54" r="4.20" fill="#f2775a"/>
<circle cx="444.20" cy="515.54" r="3.40" fill="#f69a7f"/>
<circle cx="473.80" cy="515.54" r="4.20" fill="#f2775a"/>
<circle cx="503.60" cy="515.54" r="1.30" fill="#c0b1da"/>
<circle cx="533.20" cy="515.54" r="1.80" fill="#f9b9a2"/>
<line x1="394.50" y1="528.80" x2="396.50" y2="528.80" stroke="#555" stroke-width="0.8" />
<text x="394.80" y="531.10" font-size="6.55" font-weight="normal" text-anchor="end" fill="#1a1a1a" >OXIDATIVE_PHOSPHORYLATION</text>
<circle cx="414.60" cy="528.80" r="4.20" fill="#6e61ad"/>
<circle cx="444.20" cy="528.80" r="1.80" fill="#cdbfe1"/>
<circle cx="473.80" cy="528.80" r="4.20" fill="#5f58a8"/>
<circle cx="503.60" cy="528.80" r="2.70" fill="#c0b1da"/>
<circle cx="533.20" cy="528.80" r="2.70" fill="#c0b1da"/>
<line x1="394.50" y1="542.06" x2="396.50" y2="542.06" stroke="#555" stroke-width="0.8" />
<text x="394.80" y="544.36" font-size="6.55" font-weight="normal" text-anchor="end" fill="#1a1a1a" >GLYCOLYSIS</text>
<circle cx="414.60" cy="542.06" r="3.40" fill="#b3a3d4"/>
<circle cx="444.20" cy="542.06" r="4.20" fill="#8e7cbe"/>
<circle cx="473.80" cy="542.06" r="3.40" fill="#c0b1da"/>
<circle cx="503.60" cy="542.06" r="4.20" fill="#8e7cbe"/>
<circle cx="533.20" cy="542.06" r="4.20" fill="#8e7cbe"/>
<line x1="394.50" y1="555.32" x2="396.50" y2="555.32" stroke="#555" stroke-width="0.8" />
<text x="394.80" y="557.62" font-size="6.55" font-weight="normal" text-anchor="end" fill="#1a1a1a" >PEROXISOME</text>
<circle cx="414.60" cy="555.32" r="2.70" fill="#b3a3d4"/>
<circle cx="444.20" cy="555.32" r="4.20" fill="#8e7cbe"/>
<circle cx="473.80" cy="555.32" r="3.40" fill="#a795ce"/>
<circle cx="503.60" cy="555.32" r="4.20" fill="#8e7cbe"/>
<circle cx="533.20" cy="555.32" r="4.20" fill="#8e7cbe"/>
<line x1="394.50" y1="568.58" x2="396.50" y2="568.58" stroke="#555" stroke-width="0.8" />
<text x="394.80" y="570.88" font-size="6.55" font-weight="normal" text-anchor="end" fill="#1a1a1a" >ADIPOGENESIS</text>
<circle cx="414.60" cy="568.58" r="4.20" fill="#a795ce"/>
<circle cx="444.20" cy="568.58" r="4.20" fill="#8e7cbe"/>
<circle cx="473.80" cy="568.58" r="4.20" fill="#a795ce"/>
<circle cx="503.60" cy="568.58" r="4.20" fill="#7e6db5"/>
<circle cx="533.20" cy="568.58" r="4.20" fill="#9b89c7"/>
<line x1="394.50" y1="581.84" x2="396.50" y2="581.84" stroke="#555" stroke-width="0.8" />
<text x="394.80" y="584.14" font-size="6.55" font-weight="normal" text-anchor="end" fill="#1a1a1a" >BILE_ACID_METABOLISM</text>
<circle cx="414.60" cy="581.84" r="2.70" fill="#b3a3d4"/>
<circle cx="444.20" cy="581.84" r="4.20" fill="#8e7cbe"/>
<circle cx="473.80" cy="581.84" r="3.40" fill="#b3a3d4"/>
<circle cx="503.60" cy="581.84" r="4.20" fill="#7e6db5"/>
<circle cx="533.20" cy="581.84" r="4.20" fill="#6e61ad"/>
<line x1="394.50" y1="595.10" x2="396.50" y2="595.10" stroke="#555" stroke-width="0.8" />
<text x="394.80" y="597.40" font-size="6.55" font-weight="normal" text-anchor="end" fill="#1a1a1a" >E2F_TARGETS</text>
<circle cx="414.60" cy="595.10" r="4.20" fill="#5f58a8"/>
<circle cx="444.20" cy="595.10" r="4.20" fill="#7e6db5"/>
<circle cx="473.80" cy="595.10" r="4.20" fill="#8e7cbe"/>
<circle cx="503.60" cy="595.10" r="3.40" fill="#b3a3d4"/>
<circle cx="533.20" cy="595.10" r="1.30" fill="#cdbfe1"/>
<line x1="394.50" y1="608.36" x2="396.50" y2="608.36" stroke="#555" stroke-width="0.8" />
<text x="394.80" y="610.66" font-size="6.55" font-weight="normal" text-anchor="end" fill="#1a1a1a" >MTORC1_SIGNALING</text>
<circle cx="414.60" cy="608.36" r="4.20" fill="#9b89c7"/>
<circle cx="444.20" cy="608.36" r="4.20" fill="#a795ce"/>
<circle cx="473.80" cy="608.36" r="4.20" fill="#5f58a8"/>
<circle cx="503.60" cy="608.36" r="4.20" fill="#7e6db5"/>
<circle cx="533.20" cy="608.36" r="4.20" fill="#a795ce"/>
<line x1="394.50" y1="621.62" x2="396.50" y2="621.62" stroke="#555" stroke-width="0.8" />
<text x="394.80" y="623.92" font-size="6.55" font-weight="normal" text-anchor="end" fill="#1a1a1a" >CHOLESTEROL_HOMEOSTASIS</text>
<circle cx="414.60" cy="621.62" r="2.70" fill="#b3a3d4"/>
<circle cx="444.20" cy="621.62" r="4.20" fill="#9b89c7"/>
<circle cx="473.80" cy="621.62" r="4.20" fill="#6e61ad"/>
<circle cx="503.60" cy="621.62" r="4.20" fill="#8e7cbe"/>
<circle cx="533.20" cy="621.62" r="4.20" fill="#7e6db5"/>
<line x1="394.50" y1="634.88" x2="396.50" y2="634.88" stroke="#555" stroke-width="0.8" />
<text x="394.80" y="637.18" font-size="6.55" font-weight="normal" text-anchor="end" fill="#1a1a1a" >FATTY_ACID_METABOLISM</text>
<circle cx="414.60" cy="634.88" r="4.20" fill="#8e7cbe"/>
<circle cx="444.20" cy="634.88" r="4.20" fill="#9b89c7"/>
<circle cx="473.80" cy="634.88" r="4.20" fill="#7e6db5"/>
<circle cx="503.60" cy="634.88" r="4.20" fill="#8e7cbe"/>
<circle cx="533.20" cy="634.88" r="4.20" fill="#7e6db5"/>
<line x1="394.50" y1="648.14" x2="396.50" y2="648.14" stroke="#555" stroke-width="0.8" />
<text x="394.80" y="650.44" font-size="6.55" font-weight="normal" text-anchor="end" fill="#1a1a1a" >MYC_TARGETS_V1</text>
<circle cx="414.60" cy="648.14" r="4.20" fill="#4b53a5"/>
<circle cx="444.20" cy="648.14" r="4.20" fill="#a795ce"/>
<circle cx="473.80" cy="648.14" r="4.20" fill="#3b50a1"/>
<circle cx="503.60" cy="648.14" r="3.40" fill="#b3a3d4"/>
<circle cx="533.20" cy="648.14" r="2.70" fill="#c0b1da"/>
<line x1="414.60" y1="656.20" x2="414.60" y2="658.20" stroke="#555" stroke-width="0.8" />
<text x="414.70" y="664.00" font-size="6.45" font-weight="normal" text-anchor="middle" fill="#222" >AOCS14</text>
<line x1="444.20" y1="656.20" x2="444.20" y2="658.20" stroke="#555" stroke-width="0.8" />
<text x="444.60" y="664.00" font-size="6.45" font-weight="normal" text-anchor="middle" fill="#222" >AOCS30</text>
<line x1="473.80" y1="656.20" x2="473.80" y2="658.20" stroke="#555" stroke-width="0.8" />
<text x="472.60" y="664.00" font-size="6.45" font-weight="normal" text-anchor="middle" fill="#222" >OV3</text>
<line x1="503.60" y1="656.20" x2="503.60" y2="658.20" stroke="#555" stroke-width="0.8" />
<text x="502.20" y="664.00" font-size="6.45" font-weight="normal" text-anchor="middle" fill="#222" >OV4</text>
<line x1="533.20" y1="656.20" x2="533.20" y2="658.20" stroke="#555" stroke-width="0.8" />
<text x="532.00" y="664.00" font-size="6.45" font-weight="normal" text-anchor="middle" fill="#222" >OV8</text>
<text x="399.00" y="678.30" font-size="6.6" font-weight="normal" text-anchor="start" fill="#222" >p−value</text>
<circle cx="425.70" cy="676.00" r="1.60" fill="#000"/>
<text x="429.90" y="678.30" font-size="6.6" font-weight="normal" text-anchor="start" fill="#222" >0.5</text>
<circle cx="444.40" cy="676.00" r="3.00" fill="#000"/>
<text x="448.60" y="678.30" font-size="6.6" font-weight="normal" text-anchor="start" fill="#222" >0.05</text>
<circle cx="467.00" cy="676.00" r="4.20" fill="#000"/>
<text x="472.20" y="678.30" font-size="6.6" font-weight="normal" text-anchor="start" fill="#222" >0.005</text>
<text x="494.00" y="678.30" font-size="6.6" font-weight="normal" text-anchor="start" fill="#222" >NES</text>
<defs><linearGradient id="gE" x1="0" x2="1" y1="0" y2="0"><stop offset="0" stop-color="#4a4ea2"/><stop offset="0.18" stop-color="#6c62ae"/><stop offset="0.34" stop-color="#aea4d2"/><stop offset="0.5" stop-color="#fbf8fa"/><stop offset="0.66" stop-color="#f7bfae"/><stop offset="0.82" stop-color="#f07464"/><stop offset="1" stop-color="#e3232a"/></linearGradient></defs>
<rect x="509.10" y="671.10" width="37.60" height="7.70" fill="url(#gE)" stroke="none" stroke-width="0"/>
<line x1="508.90" y1="671.10" x2="508.90" y2="672.50" stroke="#fff" stroke-width="0.6" />
<line x1="508.90" y1="677.40" x2="508.90" y2="678.80" stroke="#fff" stroke-width="0.6" />
<text x="508.90" y="684.40" font-size="6.6" font-weight="normal" text-anchor="middle" fill="#222" >-3</text>
<line x1="515.23" y1="671.10" x2="515.23" y2="672.50" stroke="#fff" stroke-width="0.6" />
<line x1="515.23" y1="677.40" x2="515.23" y2="678.80" stroke="#fff" stroke-width="0.6" />
<text x="515.23" y="684.40" font-size="6.6" font-weight="normal" text-anchor="middle" fill="#222" >-2</text>
<line x1="521.57" y1="671.10" x2="521.57" y2="672.50" stroke="#fff" stroke-width="0.6" />
<line x1="521.57" y1="677.40" x2="521.57" y2="678.80" stroke="#fff" stroke-width="0.6" />
<text x="521.57" y="684.40" font-size="6.6" font-weight="normal" text-anchor="middle" fill="#222" >-1</text>
<line x1="527.90" y1="671.10" x2="527.90" y2="672.50" stroke="#fff" stroke-width="0.6" />
<line x1="527.90" y1="677.40" x2="527.90" y2="678.80" stroke="#fff" stroke-width="0.6" />
<text x="527.90" y="684.40" font-size="6.6" font-weight="normal" text-anchor="middle" fill="#222" >0</text>
<line x1="534.23" y1="671.10" x2="534.23" y2="672.50" stroke="#fff" stroke-width="0.6" />
<line x1="534.23" y1="677.40" x2="534.23" y2="678.80" stroke="#fff" stroke-width="0.6" />
<text x="534.23" y="684.40" font-size="6.6" font-weight="normal" text-anchor="middle" fill="#222" >1</text>
<line x1="540.57" y1="671.10" x2="540.57" y2="672.50" stroke="#fff" stroke-width="0.6" />
<line x1="540.57" y1="677.40" x2="540.57" y2="678.80" stroke="#fff" stroke-width="0.6" />
<text x="540.57" y="684.40" font-size="6.6" font-weight="normal" text-anchor="middle" fill="#222" >2</text>
<line x1="546.90" y1="671.10" x2="546.90" y2="672.50" stroke="#fff" stroke-width="0.6" />
<line x1="546.90" y1="677.40" x2="546.90" y2="678.80" stroke="#fff" stroke-width="0.6" />
<text x="546.90" y="684.40" font-size="6.6" font-weight="normal" text-anchor="middle" fill="#222" >3</text>
</svg>
</body></html>
